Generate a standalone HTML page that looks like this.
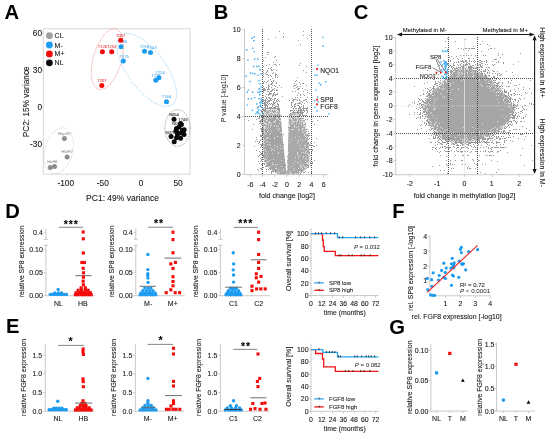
<!DOCTYPE html>
<html><head><meta charset="utf-8"><style>
html,body{margin:0;padding:0;background:#fff;}
svg{display:block;font-family:"Liberation Sans",sans-serif;filter:blur(0.3px);}
text{stroke-width:0.08px;}
</style></head><body>
<svg width="550" height="438" viewBox="0 0 550 438">
<rect width="550" height="438" fill="#fff"/>
<text x="4.6" y="18.7" font-size="20.2" font-weight="bold" fill="#000">A</text>
<text x="213.8" y="18.7" font-size="20.2" font-weight="bold" fill="#000">B</text>
<text x="353.8" y="18.8" font-size="20.2" font-weight="bold" fill="#000">C</text>
<text x="5.3" y="217.9" font-size="20.2" font-weight="bold" fill="#000">D</text>
<text x="6" y="333.2" font-size="20.2" font-weight="bold" fill="#000">E</text>
<text x="392.2" y="218" font-size="20.2" font-weight="bold" fill="#000">F</text>
<text x="389.3" y="334" font-size="20.2" font-weight="bold" fill="#000">G</text>
<rect x="43.3" y="28.7" width="146.7" height="145.5" fill="none" stroke="#dadada" stroke-width="1.1"/>
<line x1="41.3" y1="33.3" x2="43.3" y2="33.3" stroke="#dadada" stroke-width="0.9"/>
<text x="42" y="36.25" font-size="8.3" text-anchor="end" fill="#141414" stroke="#141414">60</text>
<line x1="41.3" y1="70.3" x2="43.3" y2="70.3" stroke="#dadada" stroke-width="0.9"/>
<text x="42" y="73.25" font-size="8.3" text-anchor="end" fill="#141414" stroke="#141414">30</text>
<line x1="41.3" y1="107.3" x2="43.3" y2="107.3" stroke="#dadada" stroke-width="0.9"/>
<text x="42" y="110.25" font-size="8.3" text-anchor="end" fill="#141414" stroke="#141414">0</text>
<line x1="41.3" y1="144.3" x2="43.3" y2="144.3" stroke="#dadada" stroke-width="0.9"/>
<text x="42" y="147.25" font-size="8.3" text-anchor="end" fill="#141414" stroke="#141414">-30</text>
<line x1="67" y1="174.2" x2="67" y2="176.2" stroke="#dadada" stroke-width="0.9"/>
<text x="65.8" y="186.4" font-size="8.3" text-anchor="middle" fill="#141414" stroke="#141414">-100</text>
<line x1="104" y1="174.2" x2="104" y2="176.2" stroke="#dadada" stroke-width="0.9"/>
<text x="102.8" y="186.4" font-size="8.3" text-anchor="middle" fill="#141414" stroke="#141414">-50</text>
<line x1="141" y1="174.2" x2="141" y2="176.2" stroke="#dadada" stroke-width="0.9"/>
<text x="141" y="186.4" font-size="8.3" text-anchor="middle" fill="#141414" stroke="#141414">0</text>
<line x1="178" y1="174.2" x2="178" y2="176.2" stroke="#dadada" stroke-width="0.9"/>
<text x="178" y="186.4" font-size="8.3" text-anchor="middle" fill="#141414" stroke="#141414">50</text>
<text x="122.5" y="200.8" font-size="8.5" text-anchor="middle" fill="#141414" stroke="#141414">PC1: 49% variance</text>
<text x="29.3" y="101.8" font-size="8.3" text-anchor="middle" fill="#141414" stroke="#141414" transform="rotate(-90 29.3 101.8)">PC2: 15% variance</text>
<ellipse cx="58.7" cy="150.8" rx="23.4" ry="13.9" transform="rotate(-74.4 58.7 150.8)" fill="none" stroke="#b8b8b8" stroke-width="0.7" stroke-dasharray="0.9 1.1"/>
<ellipse cx="107.4" cy="59.1" rx="31.3" ry="14.1" transform="rotate(-74 107.4 59.1)" fill="none" stroke="#f46060" stroke-width="0.7" stroke-dasharray="0.9 1.1"/>
<ellipse cx="146.8" cy="69.9" rx="43.1" ry="19" transform="rotate(53.6 146.8 69.9)" fill="none" stroke="#70bdf0" stroke-width="0.7" stroke-dasharray="0.9 1.1"/>
<ellipse cx="177.5" cy="128" rx="12.6" ry="18.3" transform="rotate(0 177.5 128)" fill="none" stroke="#606060" stroke-width="0.7" stroke-dasharray="0.9 1.1"/>
<circle cx="49.4" cy="35.7" r="3.4" fill="#a0a0a4"/>
<text x="54.6" y="38.2" font-size="7" text-anchor="start" fill="#141414" stroke="#141414">CL</text>
<circle cx="49.4" cy="45" r="3.4" fill="#1c9cf0"/>
<text x="54.6" y="47.5" font-size="7" text-anchor="start" fill="#141414" stroke="#141414">M-</text>
<circle cx="49.4" cy="53.9" r="3.4" fill="#f50a0a"/>
<text x="54.6" y="56.4" font-size="7" text-anchor="start" fill="#141414" stroke="#141414">M+</text>
<circle cx="49.4" cy="62.8" r="3.4" fill="#0a0a0a"/>
<text x="54.6" y="65.3" font-size="7" text-anchor="start" fill="#141414" stroke="#141414">NL</text>
<text x="64.4" y="134.9" font-size="4.1" text-anchor="middle" fill="#9a9a9a" stroke="#9a9a9a">HepG2</text>
<text x="67.1" y="153.4" font-size="4.1" text-anchor="middle" fill="#9a9a9a" stroke="#9a9a9a">HUH7</text>
<text x="52.4" y="163.4" font-size="4.1" text-anchor="middle" fill="#9a9a9a" stroke="#9a9a9a">HuH6</text>
<circle cx="64.4" cy="138.5" r="2.5" fill="#8e8e92"/>
<circle cx="67.1" cy="157" r="2.5" fill="#8e8e92"/>
<circle cx="50.3" cy="167.5" r="2.5" fill="#8e8e92"/>
<circle cx="54.5" cy="166.4" r="2.5" fill="#8e8e92"/>
<text x="120.7" y="36.7" font-size="4.1" text-anchor="middle" fill="#f04040" stroke="#f04040">T057</text>
<text x="102.4" y="48.1" font-size="4.1" text-anchor="middle" fill="#f04040" stroke="#f04040">T126</text>
<text x="111.7" y="48.1" font-size="4.1" text-anchor="middle" fill="#f04040" stroke="#f04040">T253</text>
<text x="101.8" y="82" font-size="4.1" text-anchor="middle" fill="#f04040" stroke="#f04040">T207</text>
<text x="122.5" y="43.2" font-size="4.1" text-anchor="middle" fill="#5ab2ee" stroke="#5ab2ee">T188</text>
<text x="124.3" y="57.5" font-size="4.1" text-anchor="middle" fill="#5ab2ee" stroke="#5ab2ee">T175</text>
<text x="144.5" y="47.6" font-size="4.1" text-anchor="middle" fill="#5ab2ee" stroke="#5ab2ee">T258</text>
<text x="152" y="48.8" font-size="4.1" text-anchor="middle" fill="#5ab2ee" stroke="#5ab2ee">T343</text>
<text x="155.8" y="76.7" font-size="4.1" text-anchor="middle" fill="#5ab2ee" stroke="#5ab2ee">T216</text>
<text x="160" y="74.2" font-size="4.1" text-anchor="middle" fill="#5ab2ee" stroke="#5ab2ee">T224</text>
<text x="166.5" y="98.1" font-size="4.1" text-anchor="middle" fill="#5ab2ee" stroke="#5ab2ee">T744</text>
<circle cx="121" cy="46.8" r="2.5" fill="#1c9cf0"/>
<circle cx="123.3" cy="61.1" r="2.5" fill="#1c9cf0"/>
<circle cx="144.5" cy="51.2" r="2.5" fill="#1c9cf0"/>
<circle cx="150.5" cy="52.4" r="2.5" fill="#1c9cf0"/>
<circle cx="155.8" cy="80.3" r="2.5" fill="#1c9cf0"/>
<circle cx="158.9" cy="77.8" r="2.5" fill="#1c9cf0"/>
<circle cx="166.5" cy="101.7" r="2.5" fill="#1c9cf0"/>
<circle cx="120.7" cy="40.3" r="2.5" fill="#f50a0a"/>
<circle cx="102.4" cy="51.7" r="2.5" fill="#f50a0a"/>
<circle cx="111.7" cy="51.7" r="2.5" fill="#f50a0a"/>
<circle cx="101.8" cy="85.6" r="2.5" fill="#f50a0a"/>
<text x="174" y="116" font-size="4.1" text-anchor="middle" fill="#303030" stroke="#303030">N054</text>
<text x="183" y="121" font-size="4.1" text-anchor="middle" fill="#303030" stroke="#303030">T746</text>
<text x="176" y="125" font-size="4.1" text-anchor="middle" fill="#303030" stroke="#303030">N07</text>
<text x="170.5" y="133.5" font-size="4.1" text-anchor="middle" fill="#303030" stroke="#303030">N078</text>
<circle cx="174" cy="119.2" r="2.5" fill="#0a0a0a"/>
<circle cx="180.6" cy="123.4" r="2.5" fill="#0a0a0a"/>
<circle cx="181.4" cy="124.5" r="2.5" fill="#0a0a0a"/>
<circle cx="176.5" cy="128.5" r="2.5" fill="#0a0a0a"/>
<circle cx="182.5" cy="130.3" r="2.5" fill="#0a0a0a"/>
<circle cx="183.1" cy="131.4" r="2.5" fill="#0a0a0a"/>
<circle cx="182" cy="133.1" r="2.5" fill="#0a0a0a"/>
<circle cx="176" cy="130.8" r="2.5" fill="#0a0a0a"/>
<circle cx="178" cy="133.1" r="2.5" fill="#0a0a0a"/>
<circle cx="179" cy="127" r="2.5" fill="#0a0a0a"/>
<circle cx="184" cy="134.5" r="2.5" fill="#0a0a0a"/>
<circle cx="177.5" cy="134.5" r="2.5" fill="#0a0a0a"/>
<circle cx="171.1" cy="136.5" r="2.5" fill="#0a0a0a"/>
<circle cx="176.5" cy="137.7" r="2.5" fill="#0a0a0a"/>
<circle cx="180.6" cy="138.2" r="2.5" fill="#0a0a0a"/>
<circle cx="174.2" cy="141.7" r="2.5" fill="#0a0a0a"/>
<circle cx="184.2" cy="129.7" r="2.5" fill="#0a0a0a"/>
<path d="M277.5 109.5L279.4 112L280.6 116L282 130L283.4 145L284.8 158L285.7 168L286.4 173.6L287 174.2L279 174L272 170.5L267 166L264.5 161L263.2 152L262.6 135L262.5 116L262.7 112L266 109.5L272 109Z" fill="#a4a4a4"/>
<path d="M293.5 113L290.3 114.2L288.9 116L288.5 130L288.1 145L287.7 158L287.3 168L286.9 173.6L287.2 174.2L296 174L302.5 172L306.5 168.5L309.5 163L309.8 156L308.8 146L307 136L304.8 126L302.5 119L300 115L297 113.3Z" fill="#a9a9a9"/>
<path d="M266 109h1v1h-1zM267 109h1v1h-1zM268 109h1v1h-1zM269 109h1v1h-1zM270 109h1v1h-1zM271 109h1v1h-1zM272 109h1v1h-1zM273 109h1v1h-1zM274 109h1v1h-1zM276 109h1v1h-1zM267 110h1v1h-1zM268 110h1v1h-1zM271 110h1v1h-1zM273 110h1v1h-1zM275 110h1v1h-1zM276 110h1v1h-1zM277 110h1v1h-1zM263 111h1v1h-1zM266 111h1v1h-1zM269 111h1v1h-1zM271 111h1v1h-1zM276 111h1v1h-1zM277 111h1v1h-1zM278 111h1v1h-1zM263 112h1v1h-1zM264 112h1v1h-1zM265 112h1v1h-1zM269 112h1v1h-1zM270 112h1v1h-1zM271 112h1v1h-1zM272 112h1v1h-1zM275 112h1v1h-1zM276 112h1v1h-1zM264 113h1v1h-1zM265 113h1v1h-1zM266 113h1v1h-1zM268 113h1v1h-1zM269 113h1v1h-1zM272 113h1v1h-1zM273 113h1v1h-1zM274 113h1v1h-1zM275 113h1v1h-1zM276 113h1v1h-1zM277 113h1v1h-1zM292 113h1v1h-1zM295 113h1v1h-1zM296 113h1v1h-1zM264 114h1v1h-1zM265 114h1v1h-1zM267 114h1v1h-1zM270 114h1v1h-1zM271 114h1v1h-1zM273 114h1v1h-1zM276 114h1v1h-1zM278 114h1v1h-1zM293 114h1v1h-1zM296 114h1v1h-1zM297 114h1v1h-1zM298 114h1v1h-1zM265 115h1v1h-1zM267 115h1v1h-1zM268 115h1v1h-1zM272 115h1v1h-1zM292 115h1v1h-1zM293 115h1v1h-1zM294 115h1v1h-1zM295 115h1v1h-1zM296 115h1v1h-1zM297 115h1v1h-1zM263 116h1v1h-1zM266 116h1v1h-1zM272 116h1v1h-1zM273 116h1v1h-1zM290 116h1v1h-1zM291 116h1v1h-1zM292 116h1v1h-1zM293 116h1v1h-1zM294 116h1v1h-1zM295 116h1v1h-1zM297 116h1v1h-1zM299 116h1v1h-1zM300 116h1v1h-1zM264 117h1v1h-1zM265 117h1v1h-1zM269 117h1v1h-1zM270 117h1v1h-1zM272 117h1v1h-1zM276 117h1v1h-1zM277 117h1v1h-1zM280 117h1v1h-1zM290 117h1v1h-1zM295 117h1v1h-1zM296 117h1v1h-1zM297 117h1v1h-1zM299 117h1v1h-1zM300 117h1v1h-1zM301 117h1v1h-1zM265 118h1v1h-1zM267 118h1v1h-1zM268 118h1v1h-1zM271 118h1v1h-1zM276 118h1v1h-1zM277 118h1v1h-1zM289 118h1v1h-1zM290 118h1v1h-1zM291 118h1v1h-1zM294 118h1v1h-1zM296 118h1v1h-1zM298 118h1v1h-1zM263 119h1v1h-1zM264 119h1v1h-1zM267 119h1v1h-1zM278 119h1v1h-1zM291 119h1v1h-1zM292 119h1v1h-1zM297 119h1v1h-1zM301 119h1v1h-1zM302 119h1v1h-1zM266 120h1v1h-1zM267 120h1v1h-1zM275 120h1v1h-1zM279 120h1v1h-1zM280 120h1v1h-1zM292 120h1v1h-1zM297 120h1v1h-1zM299 120h1v1h-1zM302 120h1v1h-1zM263 121h1v1h-1zM266 121h1v1h-1zM269 121h1v1h-1zM273 121h1v1h-1zM274 121h1v1h-1zM275 121h1v1h-1zM291 121h1v1h-1zM293 121h1v1h-1zM294 121h1v1h-1zM296 121h1v1h-1zM297 121h1v1h-1zM300 121h1v1h-1zM301 121h1v1h-1zM263 122h1v1h-1zM264 122h1v1h-1zM268 122h1v1h-1zM269 122h1v1h-1zM270 122h1v1h-1zM274 122h1v1h-1zM293 122h1v1h-1zM301 122h1v1h-1zM303 122h1v1h-1zM264 123h1v1h-1zM265 123h1v1h-1zM266 123h1v1h-1zM269 123h1v1h-1zM271 123h1v1h-1zM279 123h1v1h-1zM291 123h1v1h-1zM292 123h1v1h-1zM296 123h1v1h-1zM299 123h1v1h-1zM303 123h1v1h-1zM263 124h1v1h-1zM265 124h1v1h-1zM266 124h1v1h-1zM268 124h1v1h-1zM289 124h1v1h-1zM301 124h1v1h-1zM303 124h1v1h-1zM268 125h1v1h-1zM270 125h1v1h-1zM271 125h1v1h-1zM274 125h1v1h-1zM276 125h1v1h-1zM289 125h1v1h-1zM294 125h1v1h-1zM304 125h1v1h-1zM264 126h1v1h-1zM265 126h1v1h-1zM266 126h1v1h-1zM273 126h1v1h-1zM276 126h1v1h-1zM278 126h1v1h-1zM289 126h1v1h-1zM294 126h1v1h-1zM298 126h1v1h-1zM303 126h1v1h-1zM304 126h1v1h-1zM263 127h1v1h-1zM264 127h1v1h-1zM265 127h1v1h-1zM268 127h1v1h-1zM270 127h1v1h-1zM294 127h1v1h-1zM296 127h1v1h-1zM264 128h1v1h-1zM265 128h1v1h-1zM267 128h1v1h-1zM276 128h1v1h-1zM279 128h1v1h-1zM302 128h1v1h-1zM303 128h1v1h-1zM264 129h1v1h-1zM270 129h1v1h-1zM278 129h1v1h-1zM291 129h1v1h-1zM292 129h1v1h-1zM293 129h1v1h-1zM298 129h1v1h-1zM299 129h1v1h-1zM302 129h1v1h-1zM268 130h1v1h-1zM278 130h1v1h-1zM302 130h1v1h-1zM264 131h1v1h-1zM267 131h1v1h-1zM271 131h1v1h-1zM289 131h1v1h-1zM298 131h1v1h-1zM304 131h1v1h-1zM264 132h1v1h-1zM280 132h1v1h-1zM281 132h1v1h-1zM302 132h1v1h-1zM303 132h1v1h-1zM264 133h1v1h-1zM266 133h1v1h-1zM270 133h1v1h-1zM305 133h1v1h-1zM265 134h1v1h-1zM269 134h1v1h-1zM304 134h1v1h-1zM263 135h1v1h-1zM304 135h1v1h-1zM277 136h1v1h-1zM299 136h1v1h-1zM305 136h1v1h-1zM267 137h1v1h-1zM274 137h1v1h-1zM281 137h1v1h-1zM295 137h1v1h-1zM306 137h1v1h-1zM263 138h1v1h-1zM266 138h1v1h-1zM267 138h1v1h-1zM269 138h1v1h-1zM274 138h1v1h-1zM263 139h1v1h-1zM265 139h1v1h-1zM291 139h1v1h-1zM300 139h1v1h-1zM305 139h1v1h-1zM263 140h1v1h-1zM264 140h1v1h-1zM282 140h1v1h-1zM297 140h1v1h-1zM302 140h1v1h-1zM263 141h1v1h-1zM266 141h1v1h-1zM267 141h1v1h-1zM298 141h1v1h-1zM307 141h1v1h-1zM263 142h1v1h-1zM269 142h1v1h-1zM290 142h1v1h-1zM263 143h1v1h-1zM264 143h1v1h-1zM297 143h1v1h-1zM267 144h1v1h-1zM269 144h1v1h-1zM263 145h1v1h-1zM270 145h1v1h-1zM274 145h1v1h-1zM280 145h1v1h-1zM299 145h1v1h-1zM304 145h1v1h-1zM305 145h1v1h-1zM264 146h1v1h-1zM277 146h1v1h-1zM263 147h1v1h-1zM274 147h1v1h-1zM283 147h1v1h-1zM305 147h1v1h-1zM271 148h1v1h-1zM277 148h1v1h-1zM280 148h1v1h-1zM281 148h1v1h-1zM300 148h1v1h-1zM307 148h1v1h-1zM263 149h1v1h-1zM265 149h1v1h-1zM272 149h1v1h-1zM303 149h1v1h-1zM263 150h1v1h-1zM264 150h1v1h-1zM271 150h1v1h-1zM274 150h1v1h-1zM306 150h1v1h-1zM266 151h1v1h-1zM305 151h1v1h-1zM263 152h1v1h-1zM278 152h1v1h-1zM288 152h1v1h-1zM297 152h1v1h-1zM301 152h1v1h-1zM303 152h1v1h-1zM305 152h1v1h-1zM263 153h1v1h-1zM267 153h1v1h-1zM272 153h1v1h-1zM278 153h1v1h-1zM297 153h1v1h-1zM305 153h1v1h-1zM307 153h1v1h-1zM265 154h1v1h-1zM297 154h1v1h-1zM308 154h1v1h-1zM299 155h1v1h-1zM308 155h1v1h-1zM309 155h1v1h-1zM266 156h1v1h-1zM298 156h1v1h-1zM303 156h1v1h-1zM306 156h1v1h-1zM295 157h1v1h-1zM303 157h1v1h-1zM309 157h1v1h-1zM265 158h1v1h-1zM298 158h1v1h-1zM305 158h1v1h-1zM308 158h1v1h-1zM264 159h1v1h-1zM266 159h1v1h-1zM273 159h1v1h-1zM306 159h1v1h-1zM309 159h1v1h-1zM269 160h1v1h-1zM281 160h1v1h-1zM309 160h1v1h-1zM267 161h1v1h-1zM268 161h1v1h-1zM295 161h1v1h-1zM300 161h1v1h-1zM305 161h1v1h-1zM308 161h1v1h-1zM265 162h1v1h-1zM266 162h1v1h-1zM272 162h1v1h-1zM297 162h1v1h-1zM298 162h1v1h-1zM307 162h1v1h-1zM309 162h1v1h-1zM293 163h1v1h-1zM306 163h1v1h-1zM307 163h1v1h-1zM308 163h1v1h-1zM266 164h1v1h-1zM272 164h1v1h-1zM273 164h1v1h-1zM275 164h1v1h-1zM277 164h1v1h-1zM299 164h1v1h-1zM302 164h1v1h-1zM300 165h1v1h-1zM303 165h1v1h-1zM270 166h1v1h-1zM276 166h1v1h-1zM281 166h1v1h-1zM291 166h1v1h-1zM300 166h1v1h-1zM301 166h1v1h-1zM304 166h1v1h-1zM307 166h1v1h-1zM269 167h1v1h-1zM301 167h1v1h-1zM304 167h1v1h-1zM305 167h1v1h-1zM306 167h1v1h-1zM275 168h1v1h-1zM276 168h1v1h-1zM287 168h1v1h-1zM294 168h1v1h-1zM298 168h1v1h-1zM302 168h1v1h-1zM305 168h1v1h-1zM271 169h1v1h-1zM278 169h1v1h-1zM283 169h1v1h-1zM283 170h1v1h-1zM293 170h1v1h-1zM274 171h1v1h-1zM278 171h1v1h-1zM281 171h1v1h-1zM290 171h1v1h-1zM299 171h1v1h-1zM277 172h1v1h-1zM279 172h1v1h-1zM289 172h1v1h-1zM299 172h1v1h-1zM300 172h1v1h-1zM290 173h1v1h-1zM291 173h1v1h-1zM295 173h1v1h-1z" fill="#ffffff" opacity="0.6"/>
<path d="M279 31h1v1h-1zM303 31h1v1h-1zM283 33h1v1h-1zM303 35h1v1h-1zM309 35h1v1h-1zM283 36h1v1h-1zM275 37h1v1h-1zM283 37h1v1h-1zM307 38h1v1h-1zM268 39h1v1h-1zM298 40h1v1h-1zM300 44h1v1h-1zM263 45h1v1h-1zM267 52h1v1h-1zM268 52h1v1h-1zM267 54h1v1h-1zM275 56h1v1h-1zM265 57h1v1h-1zM274 57h1v1h-1zM263 60h1v1h-1zM276 60h1v1h-1zM273 62h1v1h-1zM300 63h1v1h-1zM269 64h1v1h-1zM274 64h1v1h-1zM275 64h1v1h-1zM279 64h1v1h-1zM266 65h1v1h-1zM276 65h1v1h-1zM299 65h1v1h-1zM263 66h1v1h-1zM306 66h1v1h-1zM271 67h1v1h-1zM268 68h1v1h-1zM270 68h1v1h-1zM271 69h1v1h-1zM273 69h1v1h-1zM263 70h1v1h-1zM267 70h1v1h-1zM271 70h1v1h-1zM272 70h1v1h-1zM276 70h1v1h-1zM303 70h1v1h-1zM267 71h1v1h-1zM263 72h1v1h-1zM266 72h1v1h-1zM273 72h1v1h-1zM306 72h1v1h-1zM265 73h1v1h-1zM272 73h1v1h-1zM275 73h1v1h-1zM263 74h1v1h-1zM266 74h1v1h-1zM267 74h1v1h-1zM275 74h1v1h-1zM276 74h1v1h-1zM268 75h1v1h-1zM270 75h1v1h-1zM275 75h1v1h-1zM277 75h1v1h-1zM263 76h1v1h-1zM271 76h1v1h-1zM275 76h1v1h-1zM268 77h1v1h-1zM275 77h1v1h-1zM277 77h1v1h-1zM297 77h1v1h-1zM272 78h1v1h-1zM270 79h1v1h-1zM268 80h1v1h-1zM273 80h1v1h-1zM296 80h1v1h-1zM264 81h1v1h-1zM267 81h1v1h-1zM271 81h1v1h-1zM273 81h1v1h-1zM295 81h1v1h-1zM263 82h1v1h-1zM266 82h1v1h-1zM272 82h1v1h-1zM276 82h1v1h-1zM299 82h1v1h-1zM263 83h1v1h-1zM271 83h1v1h-1zM272 83h1v1h-1zM276 83h1v1h-1zM294 83h1v1h-1zM302 83h1v1h-1zM303 83h1v1h-1zM268 84h1v1h-1zM270 84h1v1h-1zM271 84h1v1h-1zM296 84h1v1h-1zM300 84h1v1h-1zM268 85h1v1h-1zM272 85h1v1h-1zM274 85h1v1h-1zM279 85h1v1h-1zM294 85h1v1h-1zM295 85h1v1h-1zM306 85h1v1h-1zM263 86h1v1h-1zM268 86h1v1h-1zM269 86h1v1h-1zM275 86h1v1h-1zM293 86h1v1h-1zM297 86h1v1h-1zM300 86h1v1h-1zM266 87h1v1h-1zM268 87h1v1h-1zM271 87h1v1h-1zM277 87h1v1h-1zM281 87h1v1h-1zM296 87h1v1h-1zM263 88h1v1h-1zM264 88h1v1h-1zM268 88h1v1h-1zM274 88h1v1h-1zM294 88h1v1h-1zM298 88h1v1h-1zM299 88h1v1h-1zM302 88h1v1h-1zM263 89h1v1h-1zM264 89h1v1h-1zM265 89h1v1h-1zM267 89h1v1h-1zM268 89h1v1h-1zM269 89h1v1h-1zM272 89h1v1h-1zM273 89h1v1h-1zM276 89h1v1h-1zM297 89h1v1h-1zM298 89h1v1h-1zM305 89h1v1h-1zM263 90h1v1h-1zM264 90h1v1h-1zM265 90h1v1h-1zM271 90h1v1h-1zM272 90h1v1h-1zM274 90h1v1h-1zM276 90h1v1h-1zM277 90h1v1h-1zM307 90h1v1h-1zM263 91h1v1h-1zM267 91h1v1h-1zM268 91h1v1h-1zM270 91h1v1h-1zM271 91h1v1h-1zM292 91h1v1h-1zM295 91h1v1h-1zM303 91h1v1h-1zM263 92h1v1h-1zM269 92h1v1h-1zM274 92h1v1h-1zM307 92h1v1h-1zM269 93h1v1h-1zM270 93h1v1h-1zM271 93h1v1h-1zM273 93h1v1h-1zM277 93h1v1h-1zM298 93h1v1h-1zM309 93h1v1h-1zM266 94h1v1h-1zM268 94h1v1h-1zM269 94h1v1h-1zM270 94h1v1h-1zM273 94h1v1h-1zM274 94h1v1h-1zM275 94h1v1h-1zM276 94h1v1h-1zM277 94h1v1h-1zM300 94h1v1h-1zM303 94h1v1h-1zM263 95h1v1h-1zM268 95h1v1h-1zM272 95h1v1h-1zM273 95h1v1h-1zM275 95h1v1h-1zM297 95h1v1h-1zM300 95h1v1h-1zM304 95h1v1h-1zM265 96h1v1h-1zM272 96h1v1h-1zM282 96h1v1h-1zM263 97h1v1h-1zM266 97h1v1h-1zM268 97h1v1h-1zM269 97h1v1h-1zM295 97h1v1h-1zM297 97h1v1h-1zM300 97h1v1h-1zM307 97h1v1h-1zM266 98h1v1h-1zM269 98h1v1h-1zM270 98h1v1h-1zM271 98h1v1h-1zM274 98h1v1h-1zM275 98h1v1h-1zM292 98h1v1h-1zM263 99h1v1h-1zM265 99h1v1h-1zM267 99h1v1h-1zM270 99h1v1h-1zM272 99h1v1h-1zM274 99h1v1h-1zM277 99h1v1h-1zM293 99h1v1h-1zM294 99h1v1h-1zM295 99h1v1h-1zM296 99h1v1h-1zM299 99h1v1h-1zM305 99h1v1h-1zM306 99h1v1h-1zM263 100h1v1h-1zM264 100h1v1h-1zM265 100h1v1h-1zM268 100h1v1h-1zM269 100h1v1h-1zM270 100h1v1h-1zM271 100h1v1h-1zM274 100h1v1h-1zM276 100h1v1h-1zM278 100h1v1h-1zM289 100h1v1h-1zM292 100h1v1h-1zM293 100h1v1h-1zM297 100h1v1h-1zM299 100h1v1h-1zM303 100h1v1h-1zM304 100h1v1h-1zM263 101h1v1h-1zM265 101h1v1h-1zM267 101h1v1h-1zM268 101h1v1h-1zM269 101h1v1h-1zM273 101h1v1h-1zM276 101h1v1h-1zM277 101h1v1h-1zM279 101h1v1h-1zM293 101h1v1h-1zM300 101h1v1h-1zM301 101h1v1h-1zM306 101h1v1h-1zM264 102h1v1h-1zM265 102h1v1h-1zM266 102h1v1h-1zM267 102h1v1h-1zM273 102h1v1h-1zM274 102h1v1h-1zM275 102h1v1h-1zM291 102h1v1h-1zM292 102h1v1h-1zM299 102h1v1h-1zM302 102h1v1h-1zM307 102h1v1h-1zM263 103h1v1h-1zM264 103h1v1h-1zM265 103h1v1h-1zM267 103h1v1h-1zM269 103h1v1h-1zM271 103h1v1h-1zM273 103h1v1h-1zM274 103h1v1h-1zM277 103h1v1h-1zM291 103h1v1h-1zM295 103h1v1h-1zM297 103h1v1h-1zM298 103h1v1h-1zM299 103h1v1h-1zM300 103h1v1h-1zM304 103h1v1h-1zM264 104h1v1h-1zM265 104h1v1h-1zM266 104h1v1h-1zM268 104h1v1h-1zM270 104h1v1h-1zM272 104h1v1h-1zM273 104h1v1h-1zM277 104h1v1h-1zM278 104h1v1h-1zM291 104h1v1h-1zM294 104h1v1h-1zM295 104h1v1h-1zM301 104h1v1h-1zM264 105h1v1h-1zM265 105h1v1h-1zM266 105h1v1h-1zM267 105h1v1h-1zM272 105h1v1h-1zM274 105h1v1h-1zM278 105h1v1h-1zM291 105h1v1h-1zM294 105h1v1h-1zM297 105h1v1h-1zM298 105h1v1h-1zM303 105h1v1h-1zM258 106h1v1h-1zM265 106h1v1h-1zM267 106h1v1h-1zM272 106h1v1h-1zM275 106h1v1h-1zM276 106h1v1h-1zM277 106h1v1h-1zM278 106h1v1h-1zM292 106h1v1h-1zM294 106h1v1h-1zM295 106h1v1h-1zM299 106h1v1h-1zM301 106h1v1h-1zM303 106h1v1h-1zM258 107h1v1h-1zM264 107h1v1h-1zM265 107h1v1h-1zM267 107h1v1h-1zM269 107h1v1h-1zM270 107h1v1h-1zM271 107h1v1h-1zM273 107h1v1h-1zM274 107h1v1h-1zM275 107h1v1h-1zM278 107h1v1h-1zM291 107h1v1h-1zM294 107h1v1h-1zM299 107h1v1h-1zM300 107h1v1h-1zM303 107h1v1h-1zM307 107h1v1h-1zM263 108h1v1h-1zM265 108h1v1h-1zM266 108h1v1h-1zM267 108h1v1h-1zM268 108h1v1h-1zM269 108h1v1h-1zM270 108h1v1h-1zM271 108h1v1h-1zM272 108h1v1h-1zM273 108h1v1h-1zM274 108h1v1h-1zM275 108h1v1h-1zM276 108h1v1h-1zM277 108h1v1h-1zM278 108h1v1h-1zM279 108h1v1h-1zM293 108h1v1h-1zM295 108h1v1h-1zM296 108h1v1h-1zM298 108h1v1h-1zM299 108h1v1h-1zM300 108h1v1h-1zM302 108h1v1h-1zM303 108h1v1h-1zM304 108h1v1h-1zM305 108h1v1h-1zM306 108h1v1h-1zM307 108h1v1h-1zM263 109h1v1h-1zM264 109h1v1h-1zM265 109h1v1h-1zM277 109h1v1h-1zM278 109h1v1h-1zM279 109h1v1h-1zM293 109h1v1h-1zM298 109h1v1h-1zM300 109h1v1h-1zM301 109h1v1h-1zM303 109h1v1h-1zM306 109h1v1h-1zM263 110h1v1h-1zM264 110h1v1h-1zM278 110h1v1h-1zM279 110h1v1h-1zM290 110h1v1h-1zM291 110h1v1h-1zM292 110h1v1h-1zM294 110h1v1h-1zM296 110h1v1h-1zM298 110h1v1h-1zM299 110h1v1h-1zM300 110h1v1h-1zM301 110h1v1h-1zM302 110h1v1h-1zM303 110h1v1h-1zM304 110h1v1h-1zM306 110h1v1h-1zM307 110h1v1h-1zM261 111h1v1h-1zM279 111h1v1h-1zM290 111h1v1h-1zM293 111h1v1h-1zM297 111h1v1h-1zM298 111h1v1h-1zM300 111h1v1h-1zM301 111h1v1h-1zM304 111h1v1h-1zM307 111h1v1h-1zM262 112h1v1h-1zM292 112h1v1h-1zM293 112h1v1h-1zM294 112h1v1h-1zM295 112h1v1h-1zM296 112h1v1h-1zM297 112h1v1h-1zM298 112h1v1h-1zM299 112h1v1h-1zM300 112h1v1h-1zM301 112h1v1h-1zM302 112h1v1h-1zM303 112h1v1h-1zM307 112h1v1h-1zM259 113h1v1h-1zM290 113h1v1h-1zM291 113h1v1h-1zM297 113h1v1h-1zM298 113h1v1h-1zM300 113h1v1h-1zM301 113h1v1h-1zM302 113h1v1h-1zM306 113h1v1h-1zM289 114h1v1h-1zM299 114h1v1h-1zM300 114h1v1h-1zM302 114h1v1h-1zM261 115h1v1h-1zM262 115h1v1h-1zM280 115h1v1h-1zM300 115h1v1h-1zM302 115h1v1h-1zM303 115h1v1h-1zM304 115h1v1h-1zM305 115h1v1h-1zM306 115h1v1h-1zM261 116h1v1h-1zM262 116h1v1h-1zM259 117h1v1h-1zM261 117h1v1h-1zM262 117h1v1h-1zM258 118h1v1h-1zM259 118h1v1h-1zM262 118h1v1h-1zM302 118h1v1h-1zM303 118h1v1h-1zM256 119h1v1h-1zM261 119h1v1h-1zM262 119h1v1h-1zM305 119h1v1h-1zM307 119h1v1h-1zM248 120h1v1h-1zM260 120h1v1h-1zM261 120h1v1h-1zM262 120h1v1h-1zM303 120h1v1h-1zM304 120h1v1h-1zM317 120h1v1h-1zM259 121h1v1h-1zM260 121h1v1h-1zM261 121h1v1h-1zM262 121h1v1h-1zM312 121h1v1h-1zM260 122h1v1h-1zM304 122h1v1h-1zM259 123h1v1h-1zM261 123h1v1h-1zM305 123h1v1h-1zM311 123h1v1h-1zM253 124h1v1h-1zM261 124h1v1h-1zM304 124h1v1h-1zM305 124h1v1h-1zM314 124h1v1h-1zM260 126h1v1h-1zM305 126h1v1h-1zM262 127h1v1h-1zM288 127h1v1h-1zM260 128h1v1h-1zM261 128h1v1h-1zM262 128h1v1h-1zM252 129h1v1h-1zM261 129h1v1h-1zM262 129h1v1h-1zM306 129h1v1h-1zM307 129h1v1h-1zM261 130h1v1h-1zM262 130h1v1h-1zM261 131h1v1h-1zM306 131h1v1h-1zM308 131h1v1h-1zM262 132h1v1h-1zM262 133h1v1h-1zM308 133h1v1h-1zM309 133h1v1h-1zM262 134h1v1h-1zM283 134h1v1h-1zM307 134h1v1h-1zM260 135h1v1h-1zM261 135h1v1h-1zM262 135h1v1h-1zM307 135h1v1h-1zM308 135h1v1h-1zM309 135h1v1h-1zM311 135h1v1h-1zM260 136h1v1h-1zM261 136h1v1h-1zM308 136h1v1h-1zM256 137h1v1h-1zM307 137h1v1h-1zM262 138h1v1h-1zM307 138h1v1h-1zM309 138h1v1h-1zM316 138h1v1h-1zM256 139h1v1h-1zM261 139h1v1h-1zM262 139h1v1h-1zM308 139h1v1h-1zM260 140h1v1h-1zM255 141h1v1h-1zM257 141h1v1h-1zM259 141h1v1h-1zM262 141h1v1h-1zM311 141h1v1h-1zM259 142h1v1h-1zM308 142h1v1h-1zM310 142h1v1h-1zM314 142h1v1h-1zM258 143h1v1h-1zM308 143h1v1h-1zM260 144h1v1h-1zM261 144h1v1h-1zM262 144h1v1h-1zM283 144h1v1h-1zM309 144h1v1h-1zM261 145h1v1h-1zM309 145h1v1h-1zM310 145h1v1h-1zM312 145h1v1h-1zM316 145h1v1h-1zM254 146h1v1h-1zM261 146h1v1h-1zM313 146h1v1h-1zM314 146h1v1h-1zM260 147h1v1h-1zM262 147h1v1h-1zM309 149h1v1h-1zM310 149h1v1h-1zM312 149h1v1h-1zM256 150h1v1h-1zM312 150h1v1h-1zM259 151h1v1h-1zM260 152h1v1h-1zM262 152h1v1h-1zM309 152h1v1h-1zM311 152h1v1h-1zM261 153h1v1h-1zM262 153h1v1h-1zM260 154h1v1h-1zM261 154h1v1h-1zM262 154h1v1h-1zM259 155h1v1h-1zM263 155h1v1h-1zM310 155h1v1h-1zM311 155h1v1h-1zM258 156h1v1h-1zM263 156h1v1h-1zM287 156h1v1h-1zM261 157h1v1h-1zM262 157h1v1h-1zM263 157h1v1h-1zM260 158h1v1h-1zM311 158h1v1h-1zM261 159h1v1h-1zM263 159h1v1h-1zM311 159h1v1h-1zM261 160h1v1h-1zM287 160h1v1h-1zM310 160h1v1h-1zM314 160h1v1h-1zM258 161h1v1h-1zM260 161h1v1h-1zM264 161h1v1h-1zM287 162h1v1h-1zM310 162h1v1h-1zM312 162h1v1h-1zM259 163h1v1h-1zM263 163h1v1h-1zM264 163h1v1h-1zM310 163h1v1h-1zM312 163h1v1h-1zM261 164h1v1h-1zM262 164h1v1h-1zM264 164h1v1h-1zM285 164h1v1h-1zM266 165h1v1h-1zM285 165h1v1h-1zM308 165h1v1h-1zM310 165h1v1h-1zM265 166h1v1h-1zM266 166h1v1h-1zM308 166h1v1h-1zM263 167h1v1h-1zM307 167h1v1h-1zM308 167h1v1h-1zM311 167h1v1h-1zM260 168h1v1h-1zM261 168h1v1h-1zM269 168h1v1h-1zM306 168h1v1h-1zM257 169h1v1h-1zM261 169h1v1h-1zM266 169h1v1h-1zM268 169h1v1h-1zM270 169h1v1h-1zM258 170h1v1h-1zM266 171h1v1h-1zM271 171h1v1h-1zM272 171h1v1h-1zM273 171h1v1h-1zM286 171h1v1h-1zM305 171h1v1h-1zM271 172h1v1h-1zM275 172h1v1h-1zM301 172h1v1h-1zM303 172h1v1h-1zM304 172h1v1h-1zM308 172h1v1h-1zM311 172h1v1h-1zM271 173h1v1h-1zM277 173h1v1h-1zM298 173h1v1h-1zM300 173h1v1h-1zM311 173h1v1h-1zM280 174h1v1h-1zM281 174h1v1h-1zM283 174h1v1h-1zM284 174h1v1h-1zM285 174h1v1h-1zM286 174h1v1h-1zM288 174h1v1h-1zM292 174h1v1h-1zM294 174h1v1h-1zM299 174h1v1h-1zM300 174h1v1h-1zM302 174h1v1h-1zM311 174h1v1h-1z" fill="#9a9a9a"/>
<line x1="262.5" y1="29" x2="262.5" y2="174.6" stroke="#3c3c3c" stroke-width="0.9" stroke-dasharray="1 1"/>
<line x1="311.5" y1="29" x2="311.5" y2="174.6" stroke="#3c3c3c" stroke-width="0.9" stroke-dasharray="1 1"/>
<line x1="245" y1="116.5" x2="328" y2="116.5" stroke="#3c3c3c" stroke-width="0.9" stroke-dasharray="1 1"/>
<path d="M251.4 37.6h1.4v1.4h-1.4zM253.6 36.3h1.4v1.4h-1.4zM253.1 40.1h1.4v1.4h-1.4zM245.9 49.3h1.4v1.4h-1.4zM251.9 47.6h1.4v1.4h-1.4zM253.6 50.9h1.4v1.4h-1.4zM247.2 59.4h1.4v1.4h-1.4zM254 58.3h1.4v1.4h-1.4zM257.2 58.3h1.4v1.4h-1.4zM252.9 65.8h1.4v1.4h-1.4zM256.1 65.8h1.4v1.4h-1.4zM258.3 65.4h1.4v1.4h-1.4zM259.4 69.1h1.4v1.4h-1.4zM249.7 72.3h1.4v1.4h-1.4zM251.9 72.7h1.4v1.4h-1.4zM254 73.3h1.4v1.4h-1.4zM257.2 74.4h1.4v1.4h-1.4zM260.4 73.3h1.4v1.4h-1.4zM245.4 75.5h1.4v1.4h-1.4zM249.3 80.8h1.4v1.4h-1.4zM258.3 79.8h1.4v1.4h-1.4zM259.4 83h1.4v1.4h-1.4zM260.4 86.2h1.4v1.4h-1.4zM258.3 88.3h1.4v1.4h-1.4zM247.6 89.4h1.4v1.4h-1.4zM246.5 91.5h1.4v1.4h-1.4zM251.9 91.5h1.4v1.4h-1.4zM257.2 91.5h1.4v1.4h-1.4zM260.4 90.5h1.4v1.4h-1.4zM259.4 93.7h1.4v1.4h-1.4zM254 96.9h1.4v1.4h-1.4zM247.6 98h1.4v1.4h-1.4zM250.8 98h1.4v1.4h-1.4zM258.3 98h1.4v1.4h-1.4zM260.4 98h1.4v1.4h-1.4zM260 101.2h1.4v1.4h-1.4zM261.5 102.3h1.4v1.4h-1.4zM246.5 104.4h1.4v1.4h-1.4zM256.1 103.3h1.4v1.4h-1.4zM259.4 105.5h1.4v1.4h-1.4zM260.9 106.5h1.4v1.4h-1.4zM251.9 109.7h1.4v1.4h-1.4zM257.2 110.8h1.4v1.4h-1.4zM260.4 109.7h1.4v1.4h-1.4zM261.5 111.9h1.4v1.4h-1.4zM255.1 112.9h1.4v1.4h-1.4zM259.4 114h1.4v1.4h-1.4zM256.96 107.09h1.4v1.4h-1.4zM259.85 104.43h1.4v1.4h-1.4zM258.88 91.28h1.4v1.4h-1.4zM259.35 102.01h1.4v1.4h-1.4zM261.1 99.79h1.4v1.4h-1.4zM257.43 112.3h1.4v1.4h-1.4zM259.05 94.22h1.4v1.4h-1.4zM259.2 88.18h1.4v1.4h-1.4zM256.43 111.59h1.4v1.4h-1.4zM258.08 108.96h1.4v1.4h-1.4zM322.4 36.7h1.4v1.4h-1.4zM322.4 45.6h1.4v1.4h-1.4zM317.4 64.4h1.4v1.4h-1.4zM316.3 74.6h1.4v1.4h-1.4zM314.1 74.6h1.4v1.4h-1.4zM318.5 82.4h1.4v1.4h-1.4zM320 84h1.4v1.4h-1.4zM325 81.1h1.4v1.4h-1.4zM315.2 89.4h1.4v1.4h-1.4zM317 96.5h1.4v1.4h-1.4zM317.4 101.3h1.4v1.4h-1.4zM314.1 100.2h1.4v1.4h-1.4zM316.3 110h1.4v1.4h-1.4zM328.2 113.2h1.4v1.4h-1.4zM314.1 106.7h1.4v1.4h-1.4z" fill="#3aa8f0"/>
<rect x="316.2" y="68.2" width="1.8" height="1.8" fill="#f50a0a"/>
<rect x="316.2" y="98.7" width="1.8" height="1.8" fill="#f50a0a"/>
<rect x="316.1" y="103.5" width="1.8" height="1.8" fill="#f50a0a"/>
<text x="320.3" y="72.6" font-size="6.6" text-anchor="start" fill="#141414" stroke="#141414">NQO1</text>
<text x="320.3" y="102.1" font-size="6.9" text-anchor="start" fill="#141414" stroke="#141414">SP8</text>
<text x="320.3" y="109.2" font-size="6.8" text-anchor="start" fill="#141414" stroke="#141414">FGF8</text>
<line x1="244.5" y1="29.3" x2="244.5" y2="174.6" stroke="#c4c4c4" stroke-width="0.9"/>
<line x1="244.5" y1="174.6" x2="328.5" y2="174.6" stroke="#c4c4c4" stroke-width="0.9"/>
<line x1="242.2" y1="174.2" x2="244.5" y2="174.2" stroke="#c4c4c4" stroke-width="0.9"/>
<text x="240.6" y="176.7" font-size="7" text-anchor="end" fill="#141414" stroke="#141414">0</text>
<line x1="242.2" y1="145.28" x2="244.5" y2="145.28" stroke="#c4c4c4" stroke-width="0.9"/>
<text x="240.6" y="147.78" font-size="7" text-anchor="end" fill="#141414" stroke="#141414">2</text>
<line x1="242.2" y1="116.36" x2="244.5" y2="116.36" stroke="#c4c4c4" stroke-width="0.9"/>
<text x="240.6" y="118.86" font-size="7" text-anchor="end" fill="#141414" stroke="#141414">4</text>
<line x1="242.2" y1="87.44" x2="244.5" y2="87.44" stroke="#c4c4c4" stroke-width="0.9"/>
<text x="240.6" y="89.94" font-size="7" text-anchor="end" fill="#141414" stroke="#141414">6</text>
<line x1="242.2" y1="58.52" x2="244.5" y2="58.52" stroke="#c4c4c4" stroke-width="0.9"/>
<text x="240.6" y="61.02" font-size="7" text-anchor="end" fill="#141414" stroke="#141414">8</text>
<line x1="242.2" y1="29.6" x2="244.5" y2="29.6" stroke="#c4c4c4" stroke-width="0.9"/>
<text x="240.6" y="32.1" font-size="7" text-anchor="end" fill="#141414" stroke="#141414">10</text>
<line x1="250.4" y1="174.6" x2="250.4" y2="176.8" stroke="#c4c4c4" stroke-width="0.9"/>
<text x="250.4" y="187.1" font-size="7" text-anchor="middle" fill="#141414" stroke="#141414">-6</text>
<line x1="262.6" y1="174.6" x2="262.6" y2="176.8" stroke="#c4c4c4" stroke-width="0.9"/>
<text x="262.6" y="187.1" font-size="7" text-anchor="middle" fill="#141414" stroke="#141414">-4</text>
<line x1="274.8" y1="174.6" x2="274.8" y2="176.8" stroke="#c4c4c4" stroke-width="0.9"/>
<text x="274.8" y="187.1" font-size="7" text-anchor="middle" fill="#141414" stroke="#141414">-2</text>
<line x1="287" y1="174.6" x2="287" y2="176.8" stroke="#c4c4c4" stroke-width="0.9"/>
<text x="287" y="187.1" font-size="7" text-anchor="middle" fill="#141414" stroke="#141414">0</text>
<line x1="299.2" y1="174.6" x2="299.2" y2="176.8" stroke="#c4c4c4" stroke-width="0.9"/>
<text x="299.2" y="187.1" font-size="7" text-anchor="middle" fill="#141414" stroke="#141414">2</text>
<line x1="311.4" y1="174.6" x2="311.4" y2="176.8" stroke="#c4c4c4" stroke-width="0.9"/>
<text x="311.4" y="187.1" font-size="7" text-anchor="middle" fill="#141414" stroke="#141414">4</text>
<line x1="323.6" y1="174.6" x2="323.6" y2="176.8" stroke="#c4c4c4" stroke-width="0.9"/>
<text x="323.6" y="187.1" font-size="7" text-anchor="middle" fill="#141414" stroke="#141414">6</text>
<text x="226.4" y="98.5" font-size="6.8" text-anchor="middle" fill="#141414" transform="rotate(-90 226.4 98.5)"><tspan font-style="italic">P</tspan> value [-log10]</text>
<text x="287" y="198.3" font-size="7.1" text-anchor="middle" fill="#141414" stroke="#141414">fold change [log2]</text>
<path d="M455 69.5L464 67.8L473 69.5L481 74L489 78.5L500 89L508.5 99.5L513 106L513 112L510 120L501 129.5L492 135L480 139.8L468 142.5L458 142.5L442 139.5L436 133L430.8 125L425.7 115L423 106L426.5 99.5L434 90L448 78.5Z" fill="#a6a6a6"/>
<path d="M461 68h1v1h-1zM464 68h1v1h-1zM466 68h1v1h-1zM467 68h1v1h-1zM456 69h1v1h-1zM459 69h1v1h-1zM461 69h1v1h-1zM466 69h1v1h-1zM468 69h1v1h-1zM460 70h1v1h-1zM468 70h1v1h-1zM453 71h1v1h-1zM454 71h1v1h-1zM458 71h1v1h-1zM472 71h1v1h-1zM458 72h1v1h-1zM459 72h1v1h-1zM461 72h1v1h-1zM467 72h1v1h-1zM471 72h1v1h-1zM473 72h1v1h-1zM476 72h1v1h-1zM452 73h1v1h-1zM457 73h1v1h-1zM461 73h1v1h-1zM462 73h1v1h-1zM467 73h1v1h-1zM472 73h1v1h-1zM458 74h1v1h-1zM460 74h1v1h-1zM464 74h1v1h-1zM479 74h1v1h-1zM452 75h1v1h-1zM459 75h1v1h-1zM473 75h1v1h-1zM456 76h1v1h-1zM458 76h1v1h-1zM468 76h1v1h-1zM472 76h1v1h-1zM473 76h1v1h-1zM483 76h1v1h-1zM480 78h1v1h-1zM482 78h1v1h-1zM488 78h1v1h-1zM463 79h1v1h-1zM479 79h1v1h-1zM484 79h1v1h-1zM486 79h1v1h-1zM446 80h1v1h-1zM461 80h1v1h-1zM479 80h1v1h-1zM485 80h1v1h-1zM490 80h1v1h-1zM446 81h1v1h-1zM476 81h1v1h-1zM488 81h1v1h-1zM443 82h1v1h-1zM446 82h1v1h-1zM448 82h1v1h-1zM453 82h1v1h-1zM486 82h1v1h-1zM492 82h1v1h-1zM443 83h1v1h-1zM450 83h1v1h-1zM488 83h1v1h-1zM489 83h1v1h-1zM492 83h1v1h-1zM441 84h1v1h-1zM443 84h1v1h-1zM450 84h1v1h-1zM480 84h1v1h-1zM491 84h1v1h-1zM493 84h1v1h-1zM439 85h1v1h-1zM440 85h1v1h-1zM450 85h1v1h-1zM481 85h1v1h-1zM493 85h1v1h-1zM443 86h1v1h-1zM482 86h1v1h-1zM487 86h1v1h-1zM489 86h1v1h-1zM491 86h1v1h-1zM495 86h1v1h-1zM438 87h1v1h-1zM439 87h1v1h-1zM490 87h1v1h-1zM495 87h1v1h-1zM497 87h1v1h-1zM439 88h1v1h-1zM441 88h1v1h-1zM444 88h1v1h-1zM458 88h1v1h-1zM489 88h1v1h-1zM496 88h1v1h-1zM436 89h1v1h-1zM442 89h1v1h-1zM443 89h1v1h-1zM452 89h1v1h-1zM458 89h1v1h-1zM494 89h1v1h-1zM499 89h1v1h-1zM491 90h1v1h-1zM493 90h1v1h-1zM434 91h1v1h-1zM437 91h1v1h-1zM447 91h1v1h-1zM497 91h1v1h-1zM499 91h1v1h-1zM501 91h1v1h-1zM432 92h1v1h-1zM450 92h1v1h-1zM494 92h1v1h-1zM496 92h1v1h-1zM498 92h1v1h-1zM500 92h1v1h-1zM431 93h1v1h-1zM440 93h1v1h-1zM441 94h1v1h-1zM503 94h1v1h-1zM432 95h1v1h-1zM433 95h1v1h-1zM496 95h1v1h-1zM498 95h1v1h-1zM444 96h1v1h-1zM502 96h1v1h-1zM442 97h1v1h-1zM504 97h1v1h-1zM506 97h1v1h-1zM428 98h1v1h-1zM430 98h1v1h-1zM437 98h1v1h-1zM444 98h1v1h-1zM504 98h1v1h-1zM507 98h1v1h-1zM434 99h1v1h-1zM451 99h1v1h-1zM497 99h1v1h-1zM503 99h1v1h-1zM426 100h1v1h-1zM430 100h1v1h-1zM435 100h1v1h-1zM503 100h1v1h-1zM425 101h1v1h-1zM434 102h1v1h-1zM498 102h1v1h-1zM504 102h1v1h-1zM428 103h1v1h-1zM506 103h1v1h-1zM508 103h1v1h-1zM509 103h1v1h-1zM510 103h1v1h-1zM424 104h1v1h-1zM425 104h1v1h-1zM426 104h1v1h-1zM429 104h1v1h-1zM424 105h1v1h-1zM423 106h1v1h-1zM434 106h1v1h-1zM509 106h1v1h-1zM512 106h1v1h-1zM424 107h1v1h-1zM508 107h1v1h-1zM510 107h1v1h-1zM427 108h1v1h-1zM434 108h1v1h-1zM435 108h1v1h-1zM426 109h1v1h-1zM427 109h1v1h-1zM433 109h1v1h-1zM434 109h1v1h-1zM502 109h1v1h-1zM511 109h1v1h-1zM426 110h1v1h-1zM427 111h1v1h-1zM425 112h1v1h-1zM431 112h1v1h-1zM425 113h1v1h-1zM430 113h1v1h-1zM509 113h1v1h-1zM510 113h1v1h-1zM511 113h1v1h-1zM427 114h1v1h-1zM426 115h1v1h-1zM432 115h1v1h-1zM511 115h1v1h-1zM502 116h1v1h-1zM506 116h1v1h-1zM510 116h1v1h-1zM433 117h1v1h-1zM427 118h1v1h-1zM429 118h1v1h-1zM436 118h1v1h-1zM504 118h1v1h-1zM428 119h1v1h-1zM509 119h1v1h-1zM429 120h1v1h-1zM509 120h1v1h-1zM430 121h1v1h-1zM497 121h1v1h-1zM431 122h1v1h-1zM435 122h1v1h-1zM436 122h1v1h-1zM506 122h1v1h-1zM439 123h1v1h-1zM431 124h1v1h-1zM434 124h1v1h-1zM435 124h1v1h-1zM482 124h1v1h-1zM505 124h1v1h-1zM434 125h1v1h-1zM437 125h1v1h-1zM503 125h1v1h-1zM432 126h1v1h-1zM437 126h1v1h-1zM500 126h1v1h-1zM501 126h1v1h-1zM502 126h1v1h-1zM503 126h1v1h-1zM432 127h1v1h-1zM433 127h1v1h-1zM440 127h1v1h-1zM463 127h1v1h-1zM472 127h1v1h-1zM495 127h1v1h-1zM499 127h1v1h-1zM501 127h1v1h-1zM437 128h1v1h-1zM442 128h1v1h-1zM477 128h1v1h-1zM493 128h1v1h-1zM497 128h1v1h-1zM501 128h1v1h-1zM436 129h1v1h-1zM447 129h1v1h-1zM491 129h1v1h-1zM496 129h1v1h-1zM497 129h1v1h-1zM434 130h1v1h-1zM435 130h1v1h-1zM436 130h1v1h-1zM439 130h1v1h-1zM445 130h1v1h-1zM483 130h1v1h-1zM490 130h1v1h-1zM435 131h1v1h-1zM436 131h1v1h-1zM437 131h1v1h-1zM440 131h1v1h-1zM443 131h1v1h-1zM448 131h1v1h-1zM479 131h1v1h-1zM492 131h1v1h-1zM496 131h1v1h-1zM437 132h1v1h-1zM443 132h1v1h-1zM453 132h1v1h-1zM473 132h1v1h-1zM479 132h1v1h-1zM481 132h1v1h-1zM485 132h1v1h-1zM488 132h1v1h-1zM489 132h1v1h-1zM490 132h1v1h-1zM492 132h1v1h-1zM451 133h1v1h-1zM460 133h1v1h-1zM471 133h1v1h-1zM472 133h1v1h-1zM483 133h1v1h-1zM493 133h1v1h-1zM440 134h1v1h-1zM446 134h1v1h-1zM448 134h1v1h-1zM459 134h1v1h-1zM479 134h1v1h-1zM486 134h1v1h-1zM491 134h1v1h-1zM438 135h1v1h-1zM440 135h1v1h-1zM441 135h1v1h-1zM449 135h1v1h-1zM458 135h1v1h-1zM466 135h1v1h-1zM482 135h1v1h-1zM484 135h1v1h-1zM489 135h1v1h-1zM441 136h1v1h-1zM449 136h1v1h-1zM475 136h1v1h-1zM484 136h1v1h-1zM485 136h1v1h-1zM441 137h1v1h-1zM455 137h1v1h-1zM466 137h1v1h-1zM472 137h1v1h-1zM484 137h1v1h-1zM485 137h1v1h-1zM444 138h1v1h-1zM449 138h1v1h-1zM460 138h1v1h-1zM467 138h1v1h-1zM468 138h1v1h-1zM476 138h1v1h-1zM462 139h1v1h-1zM464 139h1v1h-1zM465 139h1v1h-1zM472 139h1v1h-1zM473 139h1v1h-1zM480 139h1v1h-1zM450 140h1v1h-1zM453 140h1v1h-1zM463 140h1v1h-1zM466 140h1v1h-1zM467 140h1v1h-1zM471 140h1v1h-1zM473 140h1v1h-1zM474 140h1v1h-1zM454 141h1v1h-1zM457 141h1v1h-1zM458 141h1v1h-1zM462 141h1v1h-1zM466 141h1v1h-1zM468 141h1v1h-1zM469 141h1v1h-1zM470 141h1v1h-1z" fill="#ffffff" opacity="0.6"/>
<path d="M447 38h1v1h-1zM465 39h1v1h-1zM445 41h1v1h-1zM455 41h1v1h-1zM482 41h1v1h-1zM480 44h1v1h-1zM487 44h1v1h-1zM489 45h1v1h-1zM473 46h1v1h-1zM445 47h1v1h-1zM494 48h1v1h-1zM447 49h1v1h-1zM463 49h1v1h-1zM488 49h1v1h-1zM468 50h1v1h-1zM481 51h1v1h-1zM466 53h1v1h-1zM498 53h1v1h-1zM520 53h1v1h-1zM502 54h1v1h-1zM466 55h1v1h-1zM498 55h1v1h-1zM451 56h1v1h-1zM456 56h1v1h-1zM449 57h1v1h-1zM500 57h1v1h-1zM453 58h1v1h-1zM457 58h1v1h-1zM462 58h1v1h-1zM468 58h1v1h-1zM469 58h1v1h-1zM473 58h1v1h-1zM458 59h1v1h-1zM477 59h1v1h-1zM494 59h1v1h-1zM495 59h1v1h-1zM496 59h1v1h-1zM448 60h1v1h-1zM450 60h1v1h-1zM462 60h1v1h-1zM465 60h1v1h-1zM466 60h1v1h-1zM469 60h1v1h-1zM474 60h1v1h-1zM479 60h1v1h-1zM480 60h1v1h-1zM486 60h1v1h-1zM446 61h1v1h-1zM450 61h1v1h-1zM458 61h1v1h-1zM460 61h1v1h-1zM462 61h1v1h-1zM463 61h1v1h-1zM465 61h1v1h-1zM475 61h1v1h-1zM486 61h1v1h-1zM498 61h1v1h-1zM518 61h1v1h-1zM454 62h1v1h-1zM456 62h1v1h-1zM458 62h1v1h-1zM463 62h1v1h-1zM467 62h1v1h-1zM474 62h1v1h-1zM479 62h1v1h-1zM480 62h1v1h-1zM486 62h1v1h-1zM496 62h1v1h-1zM498 62h1v1h-1zM503 62h1v1h-1zM447 63h1v1h-1zM453 63h1v1h-1zM461 63h1v1h-1zM466 63h1v1h-1zM468 63h1v1h-1zM469 63h1v1h-1zM477 63h1v1h-1zM481 63h1v1h-1zM482 63h1v1h-1zM503 63h1v1h-1zM447 64h1v1h-1zM453 64h1v1h-1zM457 64h1v1h-1zM460 64h1v1h-1zM463 64h1v1h-1zM465 64h1v1h-1zM466 64h1v1h-1zM467 64h1v1h-1zM469 64h1v1h-1zM475 64h1v1h-1zM477 64h1v1h-1zM479 64h1v1h-1zM480 64h1v1h-1zM485 64h1v1h-1zM487 64h1v1h-1zM492 64h1v1h-1zM494 64h1v1h-1zM513 64h1v1h-1zM439 65h1v1h-1zM450 65h1v1h-1zM453 65h1v1h-1zM454 65h1v1h-1zM458 65h1v1h-1zM460 65h1v1h-1zM463 65h1v1h-1zM464 65h1v1h-1zM465 65h1v1h-1zM466 65h1v1h-1zM470 65h1v1h-1zM472 65h1v1h-1zM473 65h1v1h-1zM478 65h1v1h-1zM480 65h1v1h-1zM482 65h1v1h-1zM493 65h1v1h-1zM449 66h1v1h-1zM451 66h1v1h-1zM452 66h1v1h-1zM461 66h1v1h-1zM462 66h1v1h-1zM463 66h1v1h-1zM464 66h1v1h-1zM468 66h1v1h-1zM469 66h1v1h-1zM470 66h1v1h-1zM471 66h1v1h-1zM480 66h1v1h-1zM481 66h1v1h-1zM451 67h1v1h-1zM453 67h1v1h-1zM456 67h1v1h-1zM458 67h1v1h-1zM459 67h1v1h-1zM460 67h1v1h-1zM462 67h1v1h-1zM463 67h1v1h-1zM464 67h1v1h-1zM466 67h1v1h-1zM468 67h1v1h-1zM469 67h1v1h-1zM470 67h1v1h-1zM471 67h1v1h-1zM472 67h1v1h-1zM473 67h1v1h-1zM476 67h1v1h-1zM478 67h1v1h-1zM479 67h1v1h-1zM481 67h1v1h-1zM482 67h1v1h-1zM486 67h1v1h-1zM488 67h1v1h-1zM489 67h1v1h-1zM452 68h1v1h-1zM454 68h1v1h-1zM455 68h1v1h-1zM456 68h1v1h-1zM457 68h1v1h-1zM468 68h1v1h-1zM469 68h1v1h-1zM470 68h1v1h-1zM471 68h1v1h-1zM473 68h1v1h-1zM474 68h1v1h-1zM475 68h1v1h-1zM476 68h1v1h-1zM477 68h1v1h-1zM445 69h1v1h-1zM452 69h1v1h-1zM454 69h1v1h-1zM479 69h1v1h-1zM481 69h1v1h-1zM485 69h1v1h-1zM487 69h1v1h-1zM427 70h1v1h-1zM447 70h1v1h-1zM450 70h1v1h-1zM451 70h1v1h-1zM453 70h1v1h-1zM475 70h1v1h-1zM476 70h1v1h-1zM478 70h1v1h-1zM479 70h1v1h-1zM483 70h1v1h-1zM485 70h1v1h-1zM488 70h1v1h-1zM492 70h1v1h-1zM445 71h1v1h-1zM450 71h1v1h-1zM451 71h1v1h-1zM452 71h1v1h-1zM480 71h1v1h-1zM481 71h1v1h-1zM483 71h1v1h-1zM484 71h1v1h-1zM485 71h1v1h-1zM493 71h1v1h-1zM494 71h1v1h-1zM497 71h1v1h-1zM506 71h1v1h-1zM445 72h1v1h-1zM450 72h1v1h-1zM451 72h1v1h-1zM479 72h1v1h-1zM481 72h1v1h-1zM487 72h1v1h-1zM489 72h1v1h-1zM512 72h1v1h-1zM440 73h1v1h-1zM447 73h1v1h-1zM448 73h1v1h-1zM451 73h1v1h-1zM480 73h1v1h-1zM481 73h1v1h-1zM482 73h1v1h-1zM484 73h1v1h-1zM487 73h1v1h-1zM489 73h1v1h-1zM492 73h1v1h-1zM495 73h1v1h-1zM497 73h1v1h-1zM499 73h1v1h-1zM438 74h1v1h-1zM444 74h1v1h-1zM450 74h1v1h-1zM482 74h1v1h-1zM485 74h1v1h-1zM497 74h1v1h-1zM501 74h1v1h-1zM484 75h1v1h-1zM485 75h1v1h-1zM486 75h1v1h-1zM488 75h1v1h-1zM489 75h1v1h-1zM497 75h1v1h-1zM499 75h1v1h-1zM500 75h1v1h-1zM513 75h1v1h-1zM446 76h1v1h-1zM485 76h1v1h-1zM486 76h1v1h-1zM489 76h1v1h-1zM493 76h1v1h-1zM494 76h1v1h-1zM437 77h1v1h-1zM445 77h1v1h-1zM448 77h1v1h-1zM487 77h1v1h-1zM491 77h1v1h-1zM493 77h1v1h-1zM494 77h1v1h-1zM497 77h1v1h-1zM444 78h1v1h-1zM489 78h1v1h-1zM490 78h1v1h-1zM495 78h1v1h-1zM496 78h1v1h-1zM508 78h1v1h-1zM518 78h1v1h-1zM433 79h1v1h-1zM434 79h1v1h-1zM445 79h1v1h-1zM446 79h1v1h-1zM490 79h1v1h-1zM492 79h1v1h-1zM496 79h1v1h-1zM499 79h1v1h-1zM440 80h1v1h-1zM444 80h1v1h-1zM491 80h1v1h-1zM493 80h1v1h-1zM494 80h1v1h-1zM495 80h1v1h-1zM511 80h1v1h-1zM530 80h1v1h-1zM435 81h1v1h-1zM438 81h1v1h-1zM442 81h1v1h-1zM443 81h1v1h-1zM492 81h1v1h-1zM508 81h1v1h-1zM427 82h1v1h-1zM435 82h1v1h-1zM439 82h1v1h-1zM440 82h1v1h-1zM493 82h1v1h-1zM494 82h1v1h-1zM495 82h1v1h-1zM498 82h1v1h-1zM499 82h1v1h-1zM502 82h1v1h-1zM508 82h1v1h-1zM424 83h1v1h-1zM435 83h1v1h-1zM436 83h1v1h-1zM437 83h1v1h-1zM440 83h1v1h-1zM496 83h1v1h-1zM497 83h1v1h-1zM498 83h1v1h-1zM502 83h1v1h-1zM510 83h1v1h-1zM434 84h1v1h-1zM435 84h1v1h-1zM439 84h1v1h-1zM497 84h1v1h-1zM519 84h1v1h-1zM436 85h1v1h-1zM437 85h1v1h-1zM496 85h1v1h-1zM497 85h1v1h-1zM498 85h1v1h-1zM501 85h1v1h-1zM514 85h1v1h-1zM516 85h1v1h-1zM414 86h1v1h-1zM433 86h1v1h-1zM434 86h1v1h-1zM497 86h1v1h-1zM499 86h1v1h-1zM500 86h1v1h-1zM502 86h1v1h-1zM506 86h1v1h-1zM508 86h1v1h-1zM509 86h1v1h-1zM430 87h1v1h-1zM433 87h1v1h-1zM499 87h1v1h-1zM523 87h1v1h-1zM425 88h1v1h-1zM427 88h1v1h-1zM432 88h1v1h-1zM433 88h1v1h-1zM434 88h1v1h-1zM500 88h1v1h-1zM502 88h1v1h-1zM518 88h1v1h-1zM529 88h1v1h-1zM428 89h1v1h-1zM431 89h1v1h-1zM433 89h1v1h-1zM504 89h1v1h-1zM514 89h1v1h-1zM523 89h1v1h-1zM423 90h1v1h-1zM429 90h1v1h-1zM430 90h1v1h-1zM433 90h1v1h-1zM501 90h1v1h-1zM504 90h1v1h-1zM510 90h1v1h-1zM427 91h1v1h-1zM429 91h1v1h-1zM432 91h1v1h-1zM502 91h1v1h-1zM504 91h1v1h-1zM505 91h1v1h-1zM506 91h1v1h-1zM510 91h1v1h-1zM515 91h1v1h-1zM427 92h1v1h-1zM430 92h1v1h-1zM504 92h1v1h-1zM505 92h1v1h-1zM506 92h1v1h-1zM508 92h1v1h-1zM525 92h1v1h-1zM423 93h1v1h-1zM426 93h1v1h-1zM428 93h1v1h-1zM429 93h1v1h-1zM508 93h1v1h-1zM513 93h1v1h-1zM514 93h1v1h-1zM526 93h1v1h-1zM531 93h1v1h-1zM423 94h1v1h-1zM428 94h1v1h-1zM429 94h1v1h-1zM504 94h1v1h-1zM508 94h1v1h-1zM510 94h1v1h-1zM511 94h1v1h-1zM515 94h1v1h-1zM517 94h1v1h-1zM519 94h1v1h-1zM420 95h1v1h-1zM427 95h1v1h-1zM428 95h1v1h-1zM429 95h1v1h-1zM505 95h1v1h-1zM506 95h1v1h-1zM508 95h1v1h-1zM511 95h1v1h-1zM514 95h1v1h-1zM521 95h1v1h-1zM426 96h1v1h-1zM427 96h1v1h-1zM506 96h1v1h-1zM507 96h1v1h-1zM509 96h1v1h-1zM507 97h1v1h-1zM508 97h1v1h-1zM510 97h1v1h-1zM418 98h1v1h-1zM425 98h1v1h-1zM508 98h1v1h-1zM509 98h1v1h-1zM510 98h1v1h-1zM511 98h1v1h-1zM519 98h1v1h-1zM524 98h1v1h-1zM419 99h1v1h-1zM421 99h1v1h-1zM426 99h1v1h-1zM509 99h1v1h-1zM510 99h1v1h-1zM512 99h1v1h-1zM514 99h1v1h-1zM515 99h1v1h-1zM520 99h1v1h-1zM420 100h1v1h-1zM422 100h1v1h-1zM425 100h1v1h-1zM510 100h1v1h-1zM515 100h1v1h-1zM518 100h1v1h-1zM414 101h1v1h-1zM418 101h1v1h-1zM422 101h1v1h-1zM423 101h1v1h-1zM510 101h1v1h-1zM513 101h1v1h-1zM518 101h1v1h-1zM412 102h1v1h-1zM423 102h1v1h-1zM424 102h1v1h-1zM511 102h1v1h-1zM517 102h1v1h-1zM414 103h1v1h-1zM419 103h1v1h-1zM420 103h1v1h-1zM511 103h1v1h-1zM513 103h1v1h-1zM529 103h1v1h-1zM531 103h1v1h-1zM409 104h1v1h-1zM417 104h1v1h-1zM419 104h1v1h-1zM421 104h1v1h-1zM422 104h1v1h-1zM423 104h1v1h-1zM513 104h1v1h-1zM514 104h1v1h-1zM517 104h1v1h-1zM531 104h1v1h-1zM533 104h1v1h-1zM421 105h1v1h-1zM513 105h1v1h-1zM514 105h1v1h-1zM515 105h1v1h-1zM516 105h1v1h-1zM517 105h1v1h-1zM524 105h1v1h-1zM525 105h1v1h-1zM408 106h1v1h-1zM422 106h1v1h-1zM513 106h1v1h-1zM514 106h1v1h-1zM516 106h1v1h-1zM522 106h1v1h-1zM419 107h1v1h-1zM421 107h1v1h-1zM422 107h1v1h-1zM513 107h1v1h-1zM514 107h1v1h-1zM515 107h1v1h-1zM522 107h1v1h-1zM416 108h1v1h-1zM420 108h1v1h-1zM423 108h1v1h-1zM513 108h1v1h-1zM516 108h1v1h-1zM518 108h1v1h-1zM523 108h1v1h-1zM418 109h1v1h-1zM423 109h1v1h-1zM513 109h1v1h-1zM514 109h1v1h-1zM524 109h1v1h-1zM526 109h1v1h-1zM420 110h1v1h-1zM514 110h1v1h-1zM522 110h1v1h-1zM423 111h1v1h-1zM424 111h1v1h-1zM513 111h1v1h-1zM520 111h1v1h-1zM521 111h1v1h-1zM414 112h1v1h-1zM417 112h1v1h-1zM420 112h1v1h-1zM423 112h1v1h-1zM424 112h1v1h-1zM513 112h1v1h-1zM515 112h1v1h-1zM518 112h1v1h-1zM522 112h1v1h-1zM420 113h1v1h-1zM422 113h1v1h-1zM512 113h1v1h-1zM513 113h1v1h-1zM516 113h1v1h-1zM520 113h1v1h-1zM409 114h1v1h-1zM414 114h1v1h-1zM417 114h1v1h-1zM419 114h1v1h-1zM420 114h1v1h-1zM424 114h1v1h-1zM425 114h1v1h-1zM512 114h1v1h-1zM515 114h1v1h-1zM526 114h1v1h-1zM422 115h1v1h-1zM512 115h1v1h-1zM513 115h1v1h-1zM514 115h1v1h-1zM515 115h1v1h-1zM518 115h1v1h-1zM420 116h1v1h-1zM422 116h1v1h-1zM425 116h1v1h-1zM513 116h1v1h-1zM514 116h1v1h-1zM517 116h1v1h-1zM519 116h1v1h-1zM525 116h1v1h-1zM418 117h1v1h-1zM420 117h1v1h-1zM425 117h1v1h-1zM511 117h1v1h-1zM512 117h1v1h-1zM513 117h1v1h-1zM514 117h1v1h-1zM517 117h1v1h-1zM523 117h1v1h-1zM416 118h1v1h-1zM420 118h1v1h-1zM424 118h1v1h-1zM512 118h1v1h-1zM513 118h1v1h-1zM514 118h1v1h-1zM516 118h1v1h-1zM521 118h1v1h-1zM523 118h1v1h-1zM427 119h1v1h-1zM426 120h1v1h-1zM427 120h1v1h-1zM513 120h1v1h-1zM514 120h1v1h-1zM422 121h1v1h-1zM427 121h1v1h-1zM428 121h1v1h-1zM509 121h1v1h-1zM510 121h1v1h-1zM511 121h1v1h-1zM515 121h1v1h-1zM517 121h1v1h-1zM520 121h1v1h-1zM521 121h1v1h-1zM524 121h1v1h-1zM424 122h1v1h-1zM428 122h1v1h-1zM508 122h1v1h-1zM511 122h1v1h-1zM516 122h1v1h-1zM424 123h1v1h-1zM426 123h1v1h-1zM428 123h1v1h-1zM429 123h1v1h-1zM507 123h1v1h-1zM516 123h1v1h-1zM421 124h1v1h-1zM426 124h1v1h-1zM429 124h1v1h-1zM508 124h1v1h-1zM509 124h1v1h-1zM510 124h1v1h-1zM512 124h1v1h-1zM420 125h1v1h-1zM425 125h1v1h-1zM428 125h1v1h-1zM429 125h1v1h-1zM430 125h1v1h-1zM508 125h1v1h-1zM511 125h1v1h-1zM431 126h1v1h-1zM505 126h1v1h-1zM507 126h1v1h-1zM522 126h1v1h-1zM430 127h1v1h-1zM504 127h1v1h-1zM506 127h1v1h-1zM509 127h1v1h-1zM421 128h1v1h-1zM431 128h1v1h-1zM432 128h1v1h-1zM502 128h1v1h-1zM504 128h1v1h-1zM505 128h1v1h-1zM526 128h1v1h-1zM417 129h1v1h-1zM429 129h1v1h-1zM431 129h1v1h-1zM501 129h1v1h-1zM513 129h1v1h-1zM515 129h1v1h-1zM516 129h1v1h-1zM519 129h1v1h-1zM430 130h1v1h-1zM433 130h1v1h-1zM503 130h1v1h-1zM504 130h1v1h-1zM509 130h1v1h-1zM510 130h1v1h-1zM529 130h1v1h-1zM426 131h1v1h-1zM434 131h1v1h-1zM498 131h1v1h-1zM499 131h1v1h-1zM501 131h1v1h-1zM503 131h1v1h-1zM504 131h1v1h-1zM433 132h1v1h-1zM434 132h1v1h-1zM435 132h1v1h-1zM496 132h1v1h-1zM498 132h1v1h-1zM501 132h1v1h-1zM503 132h1v1h-1zM505 132h1v1h-1zM507 132h1v1h-1zM508 132h1v1h-1zM509 132h1v1h-1zM526 132h1v1h-1zM428 133h1v1h-1zM430 133h1v1h-1zM434 133h1v1h-1zM435 133h1v1h-1zM494 133h1v1h-1zM496 133h1v1h-1zM497 133h1v1h-1zM503 133h1v1h-1zM418 134h1v1h-1zM433 134h1v1h-1zM434 134h1v1h-1zM436 134h1v1h-1zM493 134h1v1h-1zM495 134h1v1h-1zM508 134h1v1h-1zM520 134h1v1h-1zM521 134h1v1h-1zM522 134h1v1h-1zM431 135h1v1h-1zM435 135h1v1h-1zM436 135h1v1h-1zM437 135h1v1h-1zM492 135h1v1h-1zM493 135h1v1h-1zM509 135h1v1h-1zM433 136h1v1h-1zM435 136h1v1h-1zM438 136h1v1h-1zM489 136h1v1h-1zM491 136h1v1h-1zM494 136h1v1h-1zM496 136h1v1h-1zM498 136h1v1h-1zM501 136h1v1h-1zM503 136h1v1h-1zM513 136h1v1h-1zM525 136h1v1h-1zM433 137h1v1h-1zM435 137h1v1h-1zM437 137h1v1h-1zM438 137h1v1h-1zM489 137h1v1h-1zM492 137h1v1h-1zM496 137h1v1h-1zM498 137h1v1h-1zM506 137h1v1h-1zM508 137h1v1h-1zM510 137h1v1h-1zM429 138h1v1h-1zM437 138h1v1h-1zM439 138h1v1h-1zM483 138h1v1h-1zM485 138h1v1h-1zM487 138h1v1h-1zM488 138h1v1h-1zM489 138h1v1h-1zM490 138h1v1h-1zM492 138h1v1h-1zM497 138h1v1h-1zM504 138h1v1h-1zM505 138h1v1h-1zM518 138h1v1h-1zM439 139h1v1h-1zM440 139h1v1h-1zM482 139h1v1h-1zM483 139h1v1h-1zM484 139h1v1h-1zM485 139h1v1h-1zM487 139h1v1h-1zM488 139h1v1h-1zM494 139h1v1h-1zM499 139h1v1h-1zM500 139h1v1h-1zM524 139h1v1h-1zM438 140h1v1h-1zM441 140h1v1h-1zM445 140h1v1h-1zM446 140h1v1h-1zM477 140h1v1h-1zM478 140h1v1h-1zM479 140h1v1h-1zM482 140h1v1h-1zM487 140h1v1h-1zM490 140h1v1h-1zM492 140h1v1h-1zM504 140h1v1h-1zM506 140h1v1h-1zM510 140h1v1h-1zM437 141h1v1h-1zM442 141h1v1h-1zM446 141h1v1h-1zM447 141h1v1h-1zM448 141h1v1h-1zM450 141h1v1h-1zM475 141h1v1h-1zM477 141h1v1h-1zM479 141h1v1h-1zM481 141h1v1h-1zM483 141h1v1h-1zM484 141h1v1h-1zM486 141h1v1h-1zM496 141h1v1h-1zM504 141h1v1h-1zM512 141h1v1h-1zM442 142h1v1h-1zM447 142h1v1h-1zM451 142h1v1h-1zM454 142h1v1h-1zM455 142h1v1h-1zM457 142h1v1h-1zM458 142h1v1h-1zM459 142h1v1h-1zM461 142h1v1h-1zM463 142h1v1h-1zM464 142h1v1h-1zM466 142h1v1h-1zM467 142h1v1h-1zM469 142h1v1h-1zM471 142h1v1h-1zM472 142h1v1h-1zM473 142h1v1h-1zM474 142h1v1h-1zM475 142h1v1h-1zM477 142h1v1h-1zM478 142h1v1h-1zM479 142h1v1h-1zM487 142h1v1h-1zM488 142h1v1h-1zM491 142h1v1h-1zM497 142h1v1h-1zM504 142h1v1h-1zM440 143h1v1h-1zM441 143h1v1h-1zM447 143h1v1h-1zM448 143h1v1h-1zM452 143h1v1h-1zM453 143h1v1h-1zM455 143h1v1h-1zM456 143h1v1h-1zM460 143h1v1h-1zM461 143h1v1h-1zM462 143h1v1h-1zM465 143h1v1h-1zM468 143h1v1h-1zM469 143h1v1h-1zM470 143h1v1h-1zM475 143h1v1h-1zM486 143h1v1h-1zM493 143h1v1h-1zM496 143h1v1h-1zM437 144h1v1h-1zM441 144h1v1h-1zM442 144h1v1h-1zM446 144h1v1h-1zM451 144h1v1h-1zM453 144h1v1h-1zM454 144h1v1h-1zM457 144h1v1h-1zM462 144h1v1h-1zM463 144h1v1h-1zM464 144h1v1h-1zM466 144h1v1h-1zM467 144h1v1h-1zM468 144h1v1h-1zM473 144h1v1h-1zM478 144h1v1h-1zM487 144h1v1h-1zM500 144h1v1h-1zM503 144h1v1h-1zM435 145h1v1h-1zM456 145h1v1h-1zM457 145h1v1h-1zM458 145h1v1h-1zM460 145h1v1h-1zM462 145h1v1h-1zM468 145h1v1h-1zM470 145h1v1h-1zM481 145h1v1h-1zM489 145h1v1h-1zM496 145h1v1h-1zM531 145h1v1h-1zM442 146h1v1h-1zM444 146h1v1h-1zM445 146h1v1h-1zM453 146h1v1h-1zM465 146h1v1h-1zM471 146h1v1h-1zM474 146h1v1h-1zM486 146h1v1h-1zM442 147h1v1h-1zM458 147h1v1h-1zM463 147h1v1h-1zM466 147h1v1h-1zM473 147h1v1h-1zM501 147h1v1h-1zM435 148h1v1h-1zM439 148h1v1h-1zM445 148h1v1h-1zM448 148h1v1h-1zM456 148h1v1h-1zM461 148h1v1h-1zM468 148h1v1h-1zM477 148h1v1h-1zM488 148h1v1h-1zM490 148h1v1h-1zM522 148h1v1h-1zM432 149h1v1h-1zM436 149h1v1h-1zM460 149h1v1h-1zM472 149h1v1h-1zM475 149h1v1h-1zM491 149h1v1h-1zM444 150h1v1h-1zM451 150h1v1h-1zM456 150h1v1h-1zM485 150h1v1h-1zM500 150h1v1h-1zM446 151h1v1h-1zM483 151h1v1h-1zM491 151h1v1h-1zM439 152h1v1h-1zM461 152h1v1h-1zM470 152h1v1h-1zM489 152h1v1h-1zM497 152h1v1h-1zM507 152h1v1h-1zM468 155h1v1h-1zM520 155h1v1h-1zM446 156h1v1h-1zM464 157h1v1h-1zM472 159h1v1h-1zM455 160h1v1h-1zM461 160h1v1h-1zM462 160h1v1h-1zM491 160h1v1h-1zM532 160h1v1h-1zM497 161h1v1h-1zM450 163h1v1h-1zM474 163h1v1h-1zM452 164h1v1h-1zM485 164h1v1h-1zM439 165h1v1h-1zM447 165h1v1h-1zM448 165h1v1h-1zM524 165h1v1h-1zM432 166h1v1h-1zM468 166h1v1h-1zM467 167h1v1h-1zM475 168h1v1h-1zM498 169h1v1h-1zM440 170h1v1h-1zM444 170h1v1h-1zM480 172h1v1h-1zM496 172h1v1h-1zM447 173h1v1h-1zM485 173h1v1h-1zM502 174h1v1h-1zM450 138h1v1h-1zM479 138h1v1h-1zM456 138h1v1h-1zM484 138h1v1h-1zM451 138h1v1h-1zM492 138h1v1h-1zM475 138h1v1h-1zM439 138h1v1h-1zM499 138h1v1h-1zM457 138h1v1h-1zM500 138h1v1h-1zM457 138h1v1h-1zM504 138h1v1h-1zM496 138h1v1h-1zM468 138h1v1h-1zM491 138h1v1h-1zM483 138h1v1h-1zM480 138h1v1h-1zM456 138h1v1h-1zM500 138h1v1h-1zM488 138h1v1h-1zM480 138h1v1h-1zM485 138h1v1h-1zM448 138h1v1h-1zM435 138h1v1h-1zM502 138h1v1h-1zM452 138h1v1h-1zM444 138h1v1h-1zM496 138h1v1h-1zM478 138h1v1h-1zM434 138h1v1h-1zM458 138h1v1h-1zM433 138h1v1h-1zM500 138h1v1h-1zM435 138h1v1h-1zM449 138h1v1h-1zM479 138h1v1h-1zM473 138h1v1h-1zM442 138h1v1h-1zM458 138h1v1h-1zM460 142h1v1h-1zM479 142h1v1h-1zM430 142h1v1h-1zM468 142h1v1h-1zM479 142h1v1h-1zM486 142h1v1h-1zM479 142h1v1h-1zM480 142h1v1h-1zM456 142h1v1h-1zM456 142h1v1h-1zM492 142h1v1h-1zM454 142h1v1h-1zM482 142h1v1h-1zM477 142h1v1h-1zM504 142h1v1h-1zM438 142h1v1h-1zM478 142h1v1h-1zM445 142h1v1h-1zM480 142h1v1h-1zM443 142h1v1h-1zM475 142h1v1h-1zM456 142h1v1h-1zM444 142h1v1h-1zM485 142h1v1h-1zM459 142h1v1h-1zM476 142h1v1h-1zM482 142h1v1h-1zM439 142h1v1h-1zM498 142h1v1h-1zM474 142h1v1h-1zM463 142h1v1h-1zM431 142h1v1h-1zM435 142h1v1h-1zM461 142h1v1h-1zM477 142h1v1h-1zM484 142h1v1h-1zM460 142h1v1h-1zM464 142h1v1h-1zM486 142h1v1h-1zM489 142h1v1h-1zM499 142h1v1h-1zM496 142h1v1h-1zM455 142h1v1h-1zM479 142h1v1h-1zM470 142h1v1h-1zM467 147h1v1h-1zM504 147h1v1h-1zM503 147h1v1h-1zM473 147h1v1h-1zM492 147h1v1h-1zM432 147h1v1h-1zM448 147h1v1h-1zM495 147h1v1h-1zM503 147h1v1h-1zM492 147h1v1h-1zM504 147h1v1h-1zM500 147h1v1h-1zM433 147h1v1h-1zM436 147h1v1h-1zM494 147h1v1h-1zM506 147h1v1h-1zM458 147h1v1h-1zM461 147h1v1h-1zM480 147h1v1h-1zM462 147h1v1h-1zM483 147h1v1h-1zM447 147h1v1h-1zM491 147h1v1h-1zM498 147h1v1h-1zM440 147h1v1h-1zM497 147h1v1h-1zM502 147h1v1h-1zM488 147h1v1h-1zM496 147h1v1h-1zM457 147h1v1h-1zM503 147h1v1h-1zM475 147h1v1h-1zM449 147h1v1h-1zM506 147h1v1h-1zM454 147h1v1h-1zM446 147h1v1h-1zM504 147h1v1h-1zM450 147h1v1h-1zM461 147h1v1h-1zM448 147h1v1h-1zM475 151h1v1h-1zM446 151h1v1h-1zM465 151h1v1h-1zM462 151h1v1h-1zM440 151h1v1h-1zM449 151h1v1h-1zM476 151h1v1h-1zM492 151h1v1h-1zM488 151h1v1h-1zM437 151h1v1h-1zM447 151h1v1h-1zM461 151h1v1h-1zM491 151h1v1h-1zM460 151h1v1h-1zM464 151h1v1h-1zM457 151h1v1h-1zM448 151h1v1h-1zM458 151h1v1h-1zM445 151h1v1h-1zM454 151h1v1h-1zM467 151h1v1h-1zM497 151h1v1h-1zM471 151h1v1h-1zM498 151h1v1h-1zM476 151h1v1h-1zM490 151h1v1h-1zM485 151h1v1h-1zM480 151h1v1h-1zM493 155h1v1h-1zM485 155h1v1h-1zM463 155h1v1h-1zM440 155h1v1h-1zM487 155h1v1h-1zM455 155h1v1h-1zM491 155h1v1h-1zM489 155h1v1h-1zM490 155h1v1h-1zM479 155h1v1h-1zM462 155h1v1h-1zM467 155h1v1h-1zM490 155h1v1h-1zM493 155h1v1h-1zM473 160h1v1h-1zM473 160h1v1h-1zM461 160h1v1h-1zM478 160h1v1h-1zM473 160h1v1h-1zM450 160h1v1h-1zM479 160h1v1h-1zM446 160h1v1h-1zM462 164h1v1h-1zM446 164h1v1h-1zM465 164h1v1h-1zM450 164h1v1h-1zM477 164h1v1h-1zM482 164h1v1h-1zM454 164h1v1h-1zM476 164h1v1h-1zM453 168h1v1h-1zM470 168h1v1h-1zM451 168h1v1h-1zM469 168h1v1h-1zM467 168h1v1h-1zM490 48h1v1h-1zM474 48h1v1h-1zM465 48h1v1h-1zM461 48h1v1h-1zM466 48h1v1h-1zM473 48h1v1h-1zM469 48h1v1h-1zM471 48h1v1h-1zM491 48h1v1h-1zM491 48h1v1h-1zM458 48h1v1h-1zM465 48h1v1h-1zM468 48h1v1h-1zM472 48h1v1h-1zM464 48h1v1h-1zM468 48h1v1h-1zM468 55h1v1h-1zM485 55h1v1h-1zM483 55h1v1h-1zM475 55h1v1h-1zM477 55h1v1h-1zM471 55h1v1h-1zM464 55h1v1h-1zM483 55h1v1h-1zM463 55h1v1h-1zM460 55h1v1h-1zM481 61h1v1h-1zM478 61h1v1h-1zM461 61h1v1h-1zM461 61h1v1h-1zM484 61h1v1h-1zM492 61h1v1h-1zM471 61h1v1h-1zM466 61h1v1h-1zM475 61h1v1h-1zM460 61h1v1h-1zM473 61h1v1h-1zM482 61h1v1h-1zM469 61h1v1h-1zM462 61h1v1h-1z" fill="#9a9a9a"/>
<line x1="464.5" y1="38" x2="464.5" y2="174.5" stroke="#e6e6e6" stroke-width="0.8"/>
<line x1="396" y1="105.9" x2="533" y2="105.9" stroke="#dedede" stroke-width="0.8" stroke-dasharray="1 1"/>
<line x1="448.5" y1="37" x2="448.5" y2="174.7" stroke="#3c3c3c" stroke-width="0.9" stroke-dasharray="1 1"/>
<line x1="477.5" y1="37" x2="477.5" y2="174.7" stroke="#3c3c3c" stroke-width="0.9" stroke-dasharray="1 1"/>
<line x1="396" y1="78.5" x2="534" y2="78.5" stroke="#3c3c3c" stroke-width="0.9" stroke-dasharray="1 1"/>
<line x1="396" y1="133.5" x2="534" y2="133.5" stroke="#3c3c3c" stroke-width="0.9" stroke-dasharray="1 1"/>
<path d="M441.12 75.45h1.3v1.3h-1.3zM442.51 77.76h1.3v1.3h-1.3zM444.87 68.54h1.3v1.3h-1.3zM444.31 63.86h1.3v1.3h-1.3zM446.41 71.15h1.3v1.3h-1.3zM444.59 61.09h1.3v1.3h-1.3zM441.73 71.3h1.3v1.3h-1.3zM441.7 64.6h1.3v1.3h-1.3zM442.76 76.2h1.3v1.3h-1.3zM441.24 69.1h1.3v1.3h-1.3zM447.03 68.44h1.3v1.3h-1.3zM446.33 70.19h1.3v1.3h-1.3zM444.4 65.7h1.3v1.3h-1.3zM442.71 76.76h1.3v1.3h-1.3zM444.41 66.59h1.3v1.3h-1.3zM444.13 73.53h1.3v1.3h-1.3zM445.46 65.93h1.3v1.3h-1.3zM446.03 73.56h1.3v1.3h-1.3zM444.48 77.64h1.3v1.3h-1.3zM443.12 60.12h1.3v1.3h-1.3zM444.87 71.15h1.3v1.3h-1.3zM447.14 72.32h1.3v1.3h-1.3zM444.9 62.16h1.3v1.3h-1.3zM444.04 61.82h1.3v1.3h-1.3zM443.13 63.01h1.3v1.3h-1.3zM445.67 76.59h1.3v1.3h-1.3zM447.14 63.9h1.3v1.3h-1.3zM445.83 71.41h1.3v1.3h-1.3zM445.36 62.58h1.3v1.3h-1.3zM445.56 62.46h1.3v1.3h-1.3zM444.93 67.61h1.3v1.3h-1.3zM445.57 65.19h1.3v1.3h-1.3zM446.38 63.42h1.3v1.3h-1.3zM445.03 63.86h1.3v1.3h-1.3zM441.85 50.35h1.3v1.3h-1.3zM443.35 50.85h1.3v1.3h-1.3zM444.85 50.15h1.3v1.3h-1.3zM446.35 50.95h1.3v1.3h-1.3zM447.15 49.85h1.3v1.3h-1.3zM440.35 61.35h1.3v1.3h-1.3zM447.35 63.35h1.3v1.3h-1.3zM443.35 69.35h1.3v1.3h-1.3zM445.35 74.35h1.3v1.3h-1.3zM446.35 76.35h1.3v1.3h-1.3z" fill="#3aa8f0"/>
<line x1="436.8" y1="58.8" x2="446" y2="72.4" stroke="#333" stroke-width="0.6"/>
<line x1="435.8" y1="58.8" x2="441" y2="72.2" stroke="#333" stroke-width="0.6"/>
<line x1="432.5" y1="67.8" x2="440.5" y2="72" stroke="#333" stroke-width="0.6"/>
<line x1="435.5" y1="75.2" x2="436.8" y2="72.6" stroke="#333" stroke-width="0.6"/>
<rect x="435.7" y="71.7" width="1.6" height="1.6" fill="#f50a0a"/>
<rect x="440" y="71.8" width="1.6" height="1.6" fill="#f50a0a"/>
<rect x="445.1" y="71.8" width="1.6" height="1.6" fill="#f50a0a"/>
<text x="430" y="58.6" font-size="6.0" text-anchor="start" fill="#222" stroke="#222">SP8</text>
<text x="415.6" y="69.3" font-size="6.2" text-anchor="start" fill="#222" stroke="#222">FGF8</text>
<text x="419.8" y="77.6" font-size="5.6" text-anchor="start" fill="#222" stroke="#222">NQO1</text>
<line x1="395.7" y1="37.4" x2="395.7" y2="174.7" stroke="#c4c4c4" stroke-width="0.9"/>
<line x1="395.7" y1="174.7" x2="534" y2="174.7" stroke="#c4c4c4" stroke-width="0.9"/>
<line x1="393.5" y1="174.4" x2="395.7" y2="174.4" stroke="#c4c4c4" stroke-width="0.9"/>
<text x="392.6" y="176.9" font-size="7" text-anchor="end" fill="#141414" stroke="#141414">-10</text>
<line x1="393.5" y1="160.7" x2="395.7" y2="160.7" stroke="#c4c4c4" stroke-width="0.9"/>
<text x="392.6" y="163.2" font-size="7" text-anchor="end" fill="#141414" stroke="#141414">-8</text>
<line x1="393.5" y1="147" x2="395.7" y2="147" stroke="#c4c4c4" stroke-width="0.9"/>
<text x="392.6" y="149.5" font-size="7" text-anchor="end" fill="#141414" stroke="#141414">-6</text>
<line x1="393.5" y1="133.3" x2="395.7" y2="133.3" stroke="#c4c4c4" stroke-width="0.9"/>
<text x="392.6" y="135.8" font-size="7" text-anchor="end" fill="#141414" stroke="#141414">-4</text>
<line x1="393.5" y1="119.6" x2="395.7" y2="119.6" stroke="#c4c4c4" stroke-width="0.9"/>
<text x="392.6" y="122.1" font-size="7" text-anchor="end" fill="#141414" stroke="#141414">-2</text>
<line x1="393.5" y1="105.9" x2="395.7" y2="105.9" stroke="#c4c4c4" stroke-width="0.9"/>
<text x="392.6" y="108.4" font-size="7" text-anchor="end" fill="#141414" stroke="#141414">0</text>
<line x1="393.5" y1="92.2" x2="395.7" y2="92.2" stroke="#c4c4c4" stroke-width="0.9"/>
<text x="392.6" y="94.7" font-size="7" text-anchor="end" fill="#141414" stroke="#141414">2</text>
<line x1="393.5" y1="78.5" x2="395.7" y2="78.5" stroke="#c4c4c4" stroke-width="0.9"/>
<text x="392.6" y="81" font-size="7" text-anchor="end" fill="#141414" stroke="#141414">4</text>
<line x1="393.5" y1="64.8" x2="395.7" y2="64.8" stroke="#c4c4c4" stroke-width="0.9"/>
<text x="392.6" y="67.3" font-size="7" text-anchor="end" fill="#141414" stroke="#141414">6</text>
<line x1="393.5" y1="51.1" x2="395.7" y2="51.1" stroke="#c4c4c4" stroke-width="0.9"/>
<text x="392.6" y="53.6" font-size="7" text-anchor="end" fill="#141414" stroke="#141414">8</text>
<line x1="393.5" y1="37.4" x2="395.7" y2="37.4" stroke="#c4c4c4" stroke-width="0.9"/>
<text x="392.6" y="39.9" font-size="7" text-anchor="end" fill="#141414" stroke="#141414">10</text>
<line x1="409.9" y1="174.7" x2="409.9" y2="176.9" stroke="#c4c4c4" stroke-width="0.9"/>
<text x="409.9" y="186.1" font-size="7" text-anchor="middle" fill="#141414" stroke="#141414">-2</text>
<line x1="437.2" y1="174.7" x2="437.2" y2="176.9" stroke="#c4c4c4" stroke-width="0.9"/>
<text x="437.2" y="186.1" font-size="7" text-anchor="middle" fill="#141414" stroke="#141414">-1</text>
<line x1="464.5" y1="174.7" x2="464.5" y2="176.9" stroke="#c4c4c4" stroke-width="0.9"/>
<text x="464.5" y="186.1" font-size="7" text-anchor="middle" fill="#141414" stroke="#141414">0</text>
<line x1="491.8" y1="174.7" x2="491.8" y2="176.9" stroke="#c4c4c4" stroke-width="0.9"/>
<text x="491.8" y="186.1" font-size="7" text-anchor="middle" fill="#141414" stroke="#141414">1</text>
<line x1="519.1" y1="174.7" x2="519.1" y2="176.9" stroke="#c4c4c4" stroke-width="0.9"/>
<text x="519.1" y="186.1" font-size="7" text-anchor="middle" fill="#141414" stroke="#141414">2</text>
<text x="377.5" y="106" font-size="7.3" text-anchor="middle" fill="#141414" stroke="#141414" transform="rotate(-90 377.5 106)">fold change in gene expression [log2]</text>
<text x="464.5" y="198.4" font-size="7.1" text-anchor="middle" fill="#141414" stroke="#141414">fold change in methylation [log2]</text>
<line x1="400" y1="34.5" x2="531" y2="34.5" stroke="#1a1a1a" stroke-width="1.1"/>
<line x1="534.6" y1="38" x2="534.6" y2="170.5" stroke="#1a1a1a" stroke-width="1.1"/>
<path d="M396.8 34.5L402 32.4L402 36.6Z" fill="#1a1a1a"/>
<path d="M534.8 34.5L529.6 32.4L529.6 36.6Z" fill="#1a1a1a"/>
<path d="M534.6 35.2L532.5 40.2L536.7 40.2Z" fill="#1a1a1a"/>
<path d="M534.6 173.9L532.5 168.9L536.7 168.9Z" fill="#1a1a1a"/>
<text x="402.8" y="31.9" font-size="5.95" text-anchor="start" fill="#141414" stroke="#141414">Methylated in M-</text>
<text x="528" y="31.9" font-size="5.95" text-anchor="end" fill="#141414" stroke="#141414">Methylated in M+</text>
<text x="540" y="27.2" font-size="7.1" text-anchor="start" fill="#141414" stroke="#141414" transform="rotate(90 540 27.2)">High expression in M+</text>
<text x="540" y="118.5" font-size="7.1" text-anchor="start" fill="#141414" stroke="#141414" transform="rotate(90 540 118.5)">High expression in M-</text>
<line x1="45.9" y1="228.5" x2="45.9" y2="239.4" stroke="#c4c4c4" stroke-width="0.9"/>
<line x1="43.9" y1="239.4" x2="47.9" y2="239.4" stroke="#c4c4c4" stroke-width="0.9"/>
<line x1="45.9" y1="245.3" x2="45.9" y2="295.7" stroke="#c4c4c4" stroke-width="0.9"/>
<line x1="43.9" y1="245.3" x2="47.9" y2="245.3" stroke="#c4c4c4" stroke-width="0.9"/>
<line x1="45.9" y1="295.7" x2="94.9" y2="295.7" stroke="#c4c4c4" stroke-width="0.9"/>
<line x1="43.7" y1="232.4" x2="45.9" y2="232.4" stroke="#c4c4c4" stroke-width="0.9"/>
<text x="42.8" y="234.9" font-size="7" text-anchor="end" fill="#141414" stroke="#141414">0.4</text>
<line x1="43.7" y1="249.7" x2="45.9" y2="249.7" stroke="#c4c4c4" stroke-width="0.9"/>
<text x="42.8" y="252.2" font-size="7" text-anchor="end" fill="#141414" stroke="#141414">0.10</text>
<line x1="43.7" y1="272.7" x2="45.9" y2="272.7" stroke="#c4c4c4" stroke-width="0.9"/>
<text x="42.8" y="275.2" font-size="7" text-anchor="end" fill="#141414" stroke="#141414">0.05</text>
<line x1="43.7" y1="295.7" x2="45.9" y2="295.7" stroke="#c4c4c4" stroke-width="0.9"/>
<text x="42.8" y="298.2" font-size="7" text-anchor="end" fill="#141414" stroke="#141414">0.00</text>
<text x="58.4" y="306" font-size="7" text-anchor="middle" fill="#141414" stroke="#141414">NL</text>
<text x="82.9" y="306" font-size="7" text-anchor="middle" fill="#141414" stroke="#141414">HB</text>
<text x="24" y="261.4" font-size="6.85" text-anchor="middle" fill="#141414" stroke="#141414" transform="rotate(-90 24 261.4)">relative SP8 expression</text>
<line x1="135.8" y1="228.5" x2="135.8" y2="239.4" stroke="#c4c4c4" stroke-width="0.9"/>
<line x1="133.8" y1="239.4" x2="137.8" y2="239.4" stroke="#c4c4c4" stroke-width="0.9"/>
<line x1="135.8" y1="245.3" x2="135.8" y2="295.7" stroke="#c4c4c4" stroke-width="0.9"/>
<line x1="133.8" y1="245.3" x2="137.8" y2="245.3" stroke="#c4c4c4" stroke-width="0.9"/>
<line x1="135.8" y1="295.7" x2="184.8" y2="295.7" stroke="#c4c4c4" stroke-width="0.9"/>
<line x1="133.6" y1="232.4" x2="135.8" y2="232.4" stroke="#c4c4c4" stroke-width="0.9"/>
<text x="132.7" y="234.9" font-size="7" text-anchor="end" fill="#141414" stroke="#141414">0.4</text>
<line x1="133.6" y1="249.7" x2="135.8" y2="249.7" stroke="#c4c4c4" stroke-width="0.9"/>
<text x="132.7" y="252.2" font-size="7" text-anchor="end" fill="#141414" stroke="#141414">0.10</text>
<line x1="133.6" y1="272.7" x2="135.8" y2="272.7" stroke="#c4c4c4" stroke-width="0.9"/>
<text x="132.7" y="275.2" font-size="7" text-anchor="end" fill="#141414" stroke="#141414">0.05</text>
<line x1="133.6" y1="295.7" x2="135.8" y2="295.7" stroke="#c4c4c4" stroke-width="0.9"/>
<text x="132.7" y="298.2" font-size="7" text-anchor="end" fill="#141414" stroke="#141414">0.00</text>
<text x="148.2" y="306" font-size="7" text-anchor="middle" fill="#141414" stroke="#141414">M-</text>
<text x="172.8" y="306" font-size="7" text-anchor="middle" fill="#141414" stroke="#141414">M+</text>
<text x="113.9" y="261.4" font-size="6.85" text-anchor="middle" fill="#141414" stroke="#141414" transform="rotate(-90 113.9 261.4)">relative SP8 expression</text>
<line x1="220.4" y1="228.5" x2="220.4" y2="239.4" stroke="#c4c4c4" stroke-width="0.9"/>
<line x1="218.4" y1="239.4" x2="222.4" y2="239.4" stroke="#c4c4c4" stroke-width="0.9"/>
<line x1="220.4" y1="245.3" x2="220.4" y2="295.7" stroke="#c4c4c4" stroke-width="0.9"/>
<line x1="218.4" y1="245.3" x2="222.4" y2="245.3" stroke="#c4c4c4" stroke-width="0.9"/>
<line x1="220.4" y1="295.7" x2="269.4" y2="295.7" stroke="#c4c4c4" stroke-width="0.9"/>
<line x1="218.2" y1="232.4" x2="220.4" y2="232.4" stroke="#c4c4c4" stroke-width="0.9"/>
<text x="217.3" y="234.9" font-size="7" text-anchor="end" fill="#141414" stroke="#141414">0.4</text>
<line x1="218.2" y1="249.7" x2="220.4" y2="249.7" stroke="#c4c4c4" stroke-width="0.9"/>
<text x="217.3" y="252.2" font-size="7" text-anchor="end" fill="#141414" stroke="#141414">0.10</text>
<line x1="218.2" y1="272.7" x2="220.4" y2="272.7" stroke="#c4c4c4" stroke-width="0.9"/>
<text x="217.3" y="275.2" font-size="7" text-anchor="end" fill="#141414" stroke="#141414">0.05</text>
<line x1="218.2" y1="295.7" x2="220.4" y2="295.7" stroke="#c4c4c4" stroke-width="0.9"/>
<text x="217.3" y="298.2" font-size="7" text-anchor="end" fill="#141414" stroke="#141414">0.00</text>
<text x="233.4" y="306" font-size="7" text-anchor="middle" fill="#141414" stroke="#141414">C1</text>
<text x="258.8" y="306" font-size="7" text-anchor="middle" fill="#141414" stroke="#141414">C2</text>
<text x="198.5" y="261.4" font-size="6.85" text-anchor="middle" fill="#141414" stroke="#141414" transform="rotate(-90 198.5 261.4)">relative SP8 expression</text>
<line x1="58.9" y1="227.3" x2="83.1" y2="227.3" stroke="#787878" stroke-width="0.9"/>
<text x="65.8" y="227.5" font-size="10.5" text-anchor="middle" fill="#000" stroke="#000" style="font-weight:bold;">*</text>
<text x="70.8" y="227.5" font-size="10.5" text-anchor="middle" fill="#000" stroke="#000" style="font-weight:bold;">*</text>
<text x="75.8" y="227.5" font-size="10.5" text-anchor="middle" fill="#000" stroke="#000" style="font-weight:bold;">*</text>
<circle cx="50.26" cy="294.4" r="1.7" fill="#1c9cf0"/>
<circle cx="52.32" cy="294.4" r="1.7" fill="#1c9cf0"/>
<circle cx="54.35" cy="294.4" r="1.7" fill="#1c9cf0"/>
<circle cx="56.42" cy="294.4" r="1.7" fill="#1c9cf0"/>
<circle cx="58.32" cy="294.4" r="1.7" fill="#1c9cf0"/>
<circle cx="60.41" cy="294.4" r="1.7" fill="#1c9cf0"/>
<circle cx="61.96" cy="294.4" r="1.7" fill="#1c9cf0"/>
<circle cx="64.18" cy="294.4" r="1.7" fill="#1c9cf0"/>
<circle cx="66.42" cy="294.4" r="1.7" fill="#1c9cf0"/>
<circle cx="54.77" cy="292.9" r="1.7" fill="#1c9cf0"/>
<circle cx="58.4" cy="292.9" r="1.7" fill="#1c9cf0"/>
<circle cx="61.51" cy="292.9" r="1.7" fill="#1c9cf0"/>
<circle cx="58.18" cy="289.4" r="1.7" fill="#1c9cf0"/>
<line x1="75.3" y1="275.7" x2="91.7" y2="275.7" stroke="#6e6e6e" stroke-width="1.0"/>
<rect x="81.62" y="230.45" width="3.1" height="3.1" fill="#f50a0a"/>
<rect x="81.77" y="237.25" width="3.1" height="3.1" fill="#f50a0a"/>
<rect x="81.79" y="251.45" width="3.1" height="3.1" fill="#f50a0a"/>
<rect x="80.31" y="260.95" width="3.1" height="3.1" fill="#f50a0a"/>
<rect x="82.81" y="260.95" width="3.1" height="3.1" fill="#f50a0a"/>
<rect x="81.64" y="266.75" width="3.1" height="3.1" fill="#f50a0a"/>
<rect x="81.96" y="271.25" width="3.1" height="3.1" fill="#f50a0a"/>
<rect x="81.88" y="275.65" width="3.1" height="3.1" fill="#f50a0a"/>
<rect x="81.58" y="279.65" width="3.1" height="3.1" fill="#f50a0a"/>
<rect x="81.9" y="283.25" width="3.1" height="3.1" fill="#f50a0a"/>
<rect x="79.57" y="286.25" width="3.1" height="3.1" fill="#f50a0a"/>
<rect x="83.81" y="286.25" width="3.1" height="3.1" fill="#f50a0a"/>
<rect x="76.56" y="288.75" width="3.1" height="3.1" fill="#f50a0a"/>
<rect x="79.83" y="288.75" width="3.1" height="3.1" fill="#f50a0a"/>
<rect x="83.6" y="288.75" width="3.1" height="3.1" fill="#f50a0a"/>
<rect x="86.6" y="288.75" width="3.1" height="3.1" fill="#f50a0a"/>
<rect x="74.61" y="291.15" width="3.1" height="3.1" fill="#f50a0a"/>
<rect x="77.79" y="291.15" width="3.1" height="3.1" fill="#f50a0a"/>
<rect x="80.54" y="291.15" width="3.1" height="3.1" fill="#f50a0a"/>
<rect x="83.04" y="291.15" width="3.1" height="3.1" fill="#f50a0a"/>
<rect x="86.18" y="291.15" width="3.1" height="3.1" fill="#f50a0a"/>
<rect x="88.77" y="291.15" width="3.1" height="3.1" fill="#f50a0a"/>
<rect x="73.84" y="293.15" width="3.1" height="3.1" fill="#f50a0a"/>
<rect x="76.27" y="293.15" width="3.1" height="3.1" fill="#f50a0a"/>
<rect x="79.3" y="293.15" width="3.1" height="3.1" fill="#f50a0a"/>
<rect x="81.85" y="293.15" width="3.1" height="3.1" fill="#f50a0a"/>
<rect x="84.65" y="293.15" width="3.1" height="3.1" fill="#f50a0a"/>
<rect x="87.28" y="293.15" width="3.1" height="3.1" fill="#f50a0a"/>
<rect x="89.65" y="293.15" width="3.1" height="3.1" fill="#f50a0a"/>
<line x1="147.9" y1="227.2" x2="173" y2="227.2" stroke="#787878" stroke-width="0.9"/>
<text x="156" y="226.8" font-size="10.5" text-anchor="middle" fill="#000" stroke="#000" style="font-weight:bold;">*</text>
<text x="161" y="226.8" font-size="10.5" text-anchor="middle" fill="#000" stroke="#000" style="font-weight:bold;">*</text>
<circle cx="147.93" cy="254.5" r="1.7" fill="#1c9cf0"/>
<circle cx="147.83" cy="269.6" r="1.7" fill="#1c9cf0"/>
<circle cx="147.82" cy="273.8" r="1.7" fill="#1c9cf0"/>
<circle cx="147.78" cy="275.5" r="1.7" fill="#1c9cf0"/>
<circle cx="147.9" cy="278.1" r="1.7" fill="#1c9cf0"/>
<circle cx="148.05" cy="282.4" r="1.7" fill="#1c9cf0"/>
<circle cx="144.75" cy="288" r="1.7" fill="#1c9cf0"/>
<circle cx="148.09" cy="288" r="1.7" fill="#1c9cf0"/>
<circle cx="150.92" cy="288" r="1.7" fill="#1c9cf0"/>
<circle cx="142.9" cy="290.6" r="1.7" fill="#1c9cf0"/>
<circle cx="146.49" cy="290.6" r="1.7" fill="#1c9cf0"/>
<circle cx="149.66" cy="290.6" r="1.7" fill="#1c9cf0"/>
<circle cx="152.91" cy="290.6" r="1.7" fill="#1c9cf0"/>
<circle cx="140.99" cy="293" r="1.7" fill="#1c9cf0"/>
<circle cx="143.9" cy="293" r="1.7" fill="#1c9cf0"/>
<circle cx="146.38" cy="293" r="1.7" fill="#1c9cf0"/>
<circle cx="149.64" cy="293" r="1.7" fill="#1c9cf0"/>
<circle cx="151.96" cy="293" r="1.7" fill="#1c9cf0"/>
<circle cx="155.12" cy="293" r="1.7" fill="#1c9cf0"/>
<circle cx="140.17" cy="294.8" r="1.7" fill="#1c9cf0"/>
<circle cx="142.43" cy="294.8" r="1.7" fill="#1c9cf0"/>
<circle cx="145.48" cy="294.8" r="1.7" fill="#1c9cf0"/>
<circle cx="147.93" cy="294.8" r="1.7" fill="#1c9cf0"/>
<circle cx="150.71" cy="294.8" r="1.7" fill="#1c9cf0"/>
<circle cx="153.09" cy="294.8" r="1.7" fill="#1c9cf0"/>
<circle cx="155.77" cy="294.8" r="1.7" fill="#1c9cf0"/>
<line x1="139.8" y1="286.3" x2="155.9" y2="286.3" stroke="#6e6e6e" stroke-width="1.0"/>
<rect x="171.45" y="230.65" width="3.1" height="3.1" fill="#f50a0a"/>
<rect x="171.45" y="238.05" width="3.1" height="3.1" fill="#f50a0a"/>
<rect x="171.45" y="251.25" width="3.1" height="3.1" fill="#f50a0a"/>
<rect x="169.25" y="262.35" width="3.1" height="3.1" fill="#f50a0a"/>
<rect x="173.85" y="260.85" width="3.1" height="3.1" fill="#f50a0a"/>
<rect x="171.45" y="266.85" width="3.1" height="3.1" fill="#f50a0a"/>
<rect x="171.45" y="275.15" width="3.1" height="3.1" fill="#f50a0a"/>
<rect x="171.45" y="279.95" width="3.1" height="3.1" fill="#f50a0a"/>
<rect x="171.45" y="284.25" width="3.1" height="3.1" fill="#f50a0a"/>
<rect x="169.25" y="288.25" width="3.1" height="3.1" fill="#f50a0a"/>
<rect x="164.65" y="291.15" width="3.1" height="3.1" fill="#f50a0a"/>
<rect x="173.65" y="291.15" width="3.1" height="3.1" fill="#f50a0a"/>
<rect x="178.05" y="291.15" width="3.1" height="3.1" fill="#f50a0a"/>
<line x1="164.5" y1="258.1" x2="181.3" y2="258.1" stroke="#6e6e6e" stroke-width="1.0"/>
<line x1="233.7" y1="227.4" x2="258" y2="227.4" stroke="#787878" stroke-width="0.9"/>
<text x="240.3" y="226.8" font-size="10.5" text-anchor="middle" fill="#000" stroke="#000" style="font-weight:bold;">*</text>
<text x="245.3" y="226.8" font-size="10.5" text-anchor="middle" fill="#000" stroke="#000" style="font-weight:bold;">*</text>
<text x="250.3" y="226.8" font-size="10.5" text-anchor="middle" fill="#000" stroke="#000" style="font-weight:bold;">*</text>
<circle cx="233.24" cy="252.8" r="1.7" fill="#1c9cf0"/>
<circle cx="233.63" cy="263.9" r="1.7" fill="#1c9cf0"/>
<circle cx="233.25" cy="269.9" r="1.7" fill="#1c9cf0"/>
<circle cx="233.53" cy="275" r="1.7" fill="#1c9cf0"/>
<circle cx="233.61" cy="282.1" r="1.7" fill="#1c9cf0"/>
<circle cx="230.62" cy="288.3" r="1.7" fill="#1c9cf0"/>
<circle cx="233.32" cy="288.3" r="1.7" fill="#1c9cf0"/>
<circle cx="236.33" cy="288.3" r="1.7" fill="#1c9cf0"/>
<circle cx="228.41" cy="290.8" r="1.7" fill="#1c9cf0"/>
<circle cx="231.87" cy="290.8" r="1.7" fill="#1c9cf0"/>
<circle cx="234.87" cy="290.8" r="1.7" fill="#1c9cf0"/>
<circle cx="238.52" cy="290.8" r="1.7" fill="#1c9cf0"/>
<circle cx="227.05" cy="293" r="1.7" fill="#1c9cf0"/>
<circle cx="229.68" cy="293" r="1.7" fill="#1c9cf0"/>
<circle cx="231.87" cy="293" r="1.7" fill="#1c9cf0"/>
<circle cx="234.92" cy="293" r="1.7" fill="#1c9cf0"/>
<circle cx="237.1" cy="293" r="1.7" fill="#1c9cf0"/>
<circle cx="239.82" cy="293" r="1.7" fill="#1c9cf0"/>
<circle cx="225.96" cy="294.8" r="1.7" fill="#1c9cf0"/>
<circle cx="228.61" cy="294.8" r="1.7" fill="#1c9cf0"/>
<circle cx="230.82" cy="294.8" r="1.7" fill="#1c9cf0"/>
<circle cx="233.61" cy="294.8" r="1.7" fill="#1c9cf0"/>
<circle cx="235.92" cy="294.8" r="1.7" fill="#1c9cf0"/>
<circle cx="238.31" cy="294.8" r="1.7" fill="#1c9cf0"/>
<circle cx="240.81" cy="294.8" r="1.7" fill="#1c9cf0"/>
<line x1="225.1" y1="287.2" x2="241.9" y2="287.2" stroke="#6e6e6e" stroke-width="1.0"/>
<rect x="257.05" y="230.65" width="3.1" height="3.1" fill="#f50a0a"/>
<rect x="257.05" y="238.05" width="3.1" height="3.1" fill="#f50a0a"/>
<rect x="257.05" y="252.95" width="3.1" height="3.1" fill="#f50a0a"/>
<rect x="257.05" y="260.85" width="3.1" height="3.1" fill="#f50a0a"/>
<rect x="257.05" y="266.85" width="3.1" height="3.1" fill="#f50a0a"/>
<rect x="254.75" y="272.25" width="3.1" height="3.1" fill="#f50a0a"/>
<rect x="254.75" y="276.25" width="3.1" height="3.1" fill="#f50a0a"/>
<rect x="259.45" y="274.85" width="3.1" height="3.1" fill="#f50a0a"/>
<rect x="257.05" y="280.55" width="3.1" height="3.1" fill="#f50a0a"/>
<rect x="250.45" y="284.65" width="3.1" height="3.1" fill="#f50a0a"/>
<rect x="250.45" y="289.05" width="3.1" height="3.1" fill="#f50a0a"/>
<rect x="255.05" y="287.35" width="3.1" height="3.1" fill="#f50a0a"/>
<rect x="259.25" y="287.35" width="3.1" height="3.1" fill="#f50a0a"/>
<rect x="263.65" y="287.35" width="3.1" height="3.1" fill="#f50a0a"/>
<line x1="250.8" y1="259.8" x2="266.6" y2="259.8" stroke="#6e6e6e" stroke-width="1.0"/>
<line x1="45.3" y1="344.2" x2="45.3" y2="411.2" stroke="#c4c4c4" stroke-width="0.9"/>
<line x1="45.3" y1="411.2" x2="94.3" y2="411.2" stroke="#c4c4c4" stroke-width="0.9"/>
<line x1="43.1" y1="355.1" x2="45.3" y2="355.1" stroke="#c4c4c4" stroke-width="0.9"/>
<text x="42.2" y="357.6" font-size="7" text-anchor="end" fill="#141414" stroke="#141414">1.5</text>
<line x1="43.1" y1="373.8" x2="45.3" y2="373.8" stroke="#c4c4c4" stroke-width="0.9"/>
<text x="42.2" y="376.3" font-size="7" text-anchor="end" fill="#141414" stroke="#141414">1.0</text>
<line x1="43.1" y1="392.5" x2="45.3" y2="392.5" stroke="#c4c4c4" stroke-width="0.9"/>
<text x="42.2" y="395" font-size="7" text-anchor="end" fill="#141414" stroke="#141414">0.5</text>
<line x1="43.1" y1="411.2" x2="45.3" y2="411.2" stroke="#c4c4c4" stroke-width="0.9"/>
<text x="42.2" y="413.7" font-size="7" text-anchor="end" fill="#141414" stroke="#141414">0.0</text>
<text x="57.9" y="421" font-size="7" text-anchor="middle" fill="#141414" stroke="#141414">NL</text>
<text x="83.3" y="421" font-size="7" text-anchor="middle" fill="#141414" stroke="#141414">HB</text>
<text x="26.1" y="377.4" font-size="6.9" text-anchor="middle" fill="#141414" stroke="#141414" transform="rotate(-90 26.1 377.4)">relative FGF8 expression</text>
<line x1="135.4" y1="344.2" x2="135.4" y2="411.2" stroke="#c4c4c4" stroke-width="0.9"/>
<line x1="135.4" y1="411.2" x2="184.4" y2="411.2" stroke="#c4c4c4" stroke-width="0.9"/>
<line x1="133.2" y1="355.1" x2="135.4" y2="355.1" stroke="#c4c4c4" stroke-width="0.9"/>
<text x="132.3" y="357.6" font-size="7" text-anchor="end" fill="#141414" stroke="#141414">1.5</text>
<line x1="133.2" y1="373.8" x2="135.4" y2="373.8" stroke="#c4c4c4" stroke-width="0.9"/>
<text x="132.3" y="376.3" font-size="7" text-anchor="end" fill="#141414" stroke="#141414">1.0</text>
<line x1="133.2" y1="392.5" x2="135.4" y2="392.5" stroke="#c4c4c4" stroke-width="0.9"/>
<text x="132.3" y="395" font-size="7" text-anchor="end" fill="#141414" stroke="#141414">0.5</text>
<line x1="133.2" y1="411.2" x2="135.4" y2="411.2" stroke="#c4c4c4" stroke-width="0.9"/>
<text x="132.3" y="413.7" font-size="7" text-anchor="end" fill="#141414" stroke="#141414">0.0</text>
<text x="147.8" y="421" font-size="7" text-anchor="middle" fill="#141414" stroke="#141414">M-</text>
<text x="172.7" y="421" font-size="7" text-anchor="middle" fill="#141414" stroke="#141414">M+</text>
<text x="115.9" y="377.4" font-size="6.9" text-anchor="middle" fill="#141414" stroke="#141414" transform="rotate(-90 115.9 377.4)">relative FGF8 expression</text>
<line x1="220.4" y1="344.2" x2="220.4" y2="411.2" stroke="#c4c4c4" stroke-width="0.9"/>
<line x1="220.4" y1="411.2" x2="269.4" y2="411.2" stroke="#c4c4c4" stroke-width="0.9"/>
<line x1="218.2" y1="355.1" x2="220.4" y2="355.1" stroke="#c4c4c4" stroke-width="0.9"/>
<text x="217.3" y="357.6" font-size="7" text-anchor="end" fill="#141414" stroke="#141414">1.5</text>
<line x1="218.2" y1="373.8" x2="220.4" y2="373.8" stroke="#c4c4c4" stroke-width="0.9"/>
<text x="217.3" y="376.3" font-size="7" text-anchor="end" fill="#141414" stroke="#141414">1.0</text>
<line x1="218.2" y1="392.5" x2="220.4" y2="392.5" stroke="#c4c4c4" stroke-width="0.9"/>
<text x="217.3" y="395" font-size="7" text-anchor="end" fill="#141414" stroke="#141414">0.5</text>
<line x1="218.2" y1="411.2" x2="220.4" y2="411.2" stroke="#c4c4c4" stroke-width="0.9"/>
<text x="217.3" y="413.7" font-size="7" text-anchor="end" fill="#141414" stroke="#141414">0.0</text>
<text x="233.4" y="421" font-size="7" text-anchor="middle" fill="#141414" stroke="#141414">C1</text>
<text x="257.4" y="421" font-size="7" text-anchor="middle" fill="#141414" stroke="#141414">C2</text>
<text x="201.3" y="377.4" font-size="6.9" text-anchor="middle" fill="#141414" stroke="#141414" transform="rotate(-90 201.3 377.4)">relative FGF8 expression</text>
<line x1="58.2" y1="345.4" x2="83.8" y2="345.4" stroke="#787878" stroke-width="0.9"/>
<text x="70.6" y="344.5" font-size="10.5" text-anchor="middle" fill="#000" stroke="#000" style="font-weight:bold;">*</text>
<circle cx="49.14" cy="409.8" r="1.7" fill="#1c9cf0"/>
<circle cx="51.21" cy="409.8" r="1.7" fill="#1c9cf0"/>
<circle cx="53.37" cy="409.8" r="1.7" fill="#1c9cf0"/>
<circle cx="55.77" cy="409.8" r="1.7" fill="#1c9cf0"/>
<circle cx="58.05" cy="409.8" r="1.7" fill="#1c9cf0"/>
<circle cx="59.76" cy="409.8" r="1.7" fill="#1c9cf0"/>
<circle cx="61.82" cy="409.8" r="1.7" fill="#1c9cf0"/>
<circle cx="64.42" cy="409.8" r="1.7" fill="#1c9cf0"/>
<circle cx="66.32" cy="409.8" r="1.7" fill="#1c9cf0"/>
<circle cx="53.75" cy="408.2" r="1.7" fill="#1c9cf0"/>
<circle cx="56.34" cy="408.2" r="1.7" fill="#1c9cf0"/>
<circle cx="59.18" cy="408.2" r="1.7" fill="#1c9cf0"/>
<circle cx="61.96" cy="408.2" r="1.7" fill="#1c9cf0"/>
<circle cx="57.78" cy="401.2" r="1.7" fill="#1c9cf0"/>
<rect x="81.61" y="347.45" width="3.1" height="3.1" fill="#f50a0a"/>
<rect x="81.43" y="350.05" width="3.1" height="3.1" fill="#f50a0a"/>
<rect x="81.86" y="352.85" width="3.1" height="3.1" fill="#f50a0a"/>
<rect x="81.42" y="377.35" width="3.1" height="3.1" fill="#f50a0a"/>
<rect x="81.65" y="380.05" width="3.1" height="3.1" fill="#f50a0a"/>
<rect x="81.82" y="385.15" width="3.1" height="3.1" fill="#f50a0a"/>
<rect x="81.47" y="399.25" width="3.1" height="3.1" fill="#f50a0a"/>
<rect x="80.27" y="401.85" width="3.1" height="3.1" fill="#f50a0a"/>
<rect x="83.37" y="401.85" width="3.1" height="3.1" fill="#f50a0a"/>
<rect x="78.72" y="404.05" width="3.1" height="3.1" fill="#f50a0a"/>
<rect x="81.79" y="404.05" width="3.1" height="3.1" fill="#f50a0a"/>
<rect x="84.45" y="404.05" width="3.1" height="3.1" fill="#f50a0a"/>
<rect x="75.62" y="406.25" width="3.1" height="3.1" fill="#f50a0a"/>
<rect x="78.47" y="406.25" width="3.1" height="3.1" fill="#f50a0a"/>
<rect x="81.82" y="406.25" width="3.1" height="3.1" fill="#f50a0a"/>
<rect x="84.55" y="406.25" width="3.1" height="3.1" fill="#f50a0a"/>
<rect x="87.63" y="406.25" width="3.1" height="3.1" fill="#f50a0a"/>
<rect x="73.9" y="408.45" width="3.1" height="3.1" fill="#f50a0a"/>
<rect x="76.49" y="408.45" width="3.1" height="3.1" fill="#f50a0a"/>
<rect x="79.22" y="408.45" width="3.1" height="3.1" fill="#f50a0a"/>
<rect x="81.63" y="408.45" width="3.1" height="3.1" fill="#f50a0a"/>
<rect x="84.31" y="408.45" width="3.1" height="3.1" fill="#f50a0a"/>
<rect x="87.1" y="408.45" width="3.1" height="3.1" fill="#f50a0a"/>
<rect x="89.64" y="408.45" width="3.1" height="3.1" fill="#f50a0a"/>
<line x1="75.2" y1="403" x2="92.2" y2="403" stroke="#6e6e6e" stroke-width="1.0"/>
<line x1="147.5" y1="344.4" x2="173.1" y2="344.4" stroke="#787878" stroke-width="0.9"/>
<text x="160.5" y="344.2" font-size="10.5" text-anchor="middle" fill="#000" stroke="#000" style="font-weight:bold;">*</text>
<circle cx="147.9" cy="378.4" r="1.7" fill="#1c9cf0"/>
<circle cx="147.95" cy="400.8" r="1.7" fill="#1c9cf0"/>
<circle cx="147.82" cy="403.2" r="1.7" fill="#1c9cf0"/>
<circle cx="144.94" cy="405.5" r="1.7" fill="#1c9cf0"/>
<circle cx="148.24" cy="405.5" r="1.7" fill="#1c9cf0"/>
<circle cx="151.23" cy="405.5" r="1.7" fill="#1c9cf0"/>
<circle cx="142.56" cy="407.8" r="1.7" fill="#1c9cf0"/>
<circle cx="145.25" cy="407.8" r="1.7" fill="#1c9cf0"/>
<circle cx="147.92" cy="407.8" r="1.7" fill="#1c9cf0"/>
<circle cx="150.54" cy="407.8" r="1.7" fill="#1c9cf0"/>
<circle cx="153.39" cy="407.8" r="1.7" fill="#1c9cf0"/>
<circle cx="140.14" cy="410" r="1.7" fill="#1c9cf0"/>
<circle cx="142.85" cy="410" r="1.7" fill="#1c9cf0"/>
<circle cx="145.26" cy="410" r="1.7" fill="#1c9cf0"/>
<circle cx="148.14" cy="410" r="1.7" fill="#1c9cf0"/>
<circle cx="150.8" cy="410" r="1.7" fill="#1c9cf0"/>
<circle cx="153.43" cy="410" r="1.7" fill="#1c9cf0"/>
<circle cx="156.08" cy="410" r="1.7" fill="#1c9cf0"/>
<line x1="141.6" y1="407.7" x2="155.5" y2="407.7" stroke="#6e6e6e" stroke-width="1.0"/>
<rect x="171.95" y="346.75" width="3.1" height="3.1" fill="#f50a0a"/>
<rect x="171.95" y="352.45" width="3.1" height="3.1" fill="#f50a0a"/>
<rect x="171.95" y="379.85" width="3.1" height="3.1" fill="#f50a0a"/>
<rect x="171.95" y="384.45" width="3.1" height="3.1" fill="#f50a0a"/>
<rect x="171.95" y="399.25" width="3.1" height="3.1" fill="#f50a0a"/>
<rect x="171.95" y="401.95" width="3.1" height="3.1" fill="#f50a0a"/>
<rect x="169.45" y="404.45" width="3.1" height="3.1" fill="#f50a0a"/>
<rect x="164.95" y="407.75" width="3.1" height="3.1" fill="#f50a0a"/>
<rect x="167.65" y="407.75" width="3.1" height="3.1" fill="#f50a0a"/>
<rect x="174.45" y="407.75" width="3.1" height="3.1" fill="#f50a0a"/>
<rect x="178.25" y="407.75" width="3.1" height="3.1" fill="#f50a0a"/>
<rect x="171.45" y="407.75" width="3.1" height="3.1" fill="#f50a0a"/>
<line x1="165.1" y1="395.6" x2="181.8" y2="395.6" stroke="#6e6e6e" stroke-width="1.0"/>
<line x1="233.4" y1="349.4" x2="257.4" y2="349.4" stroke="#787878" stroke-width="0.9"/>
<text x="243" y="349.5" font-size="10.5" text-anchor="middle" fill="#000" stroke="#000" style="font-weight:bold;">*</text>
<text x="248" y="349.5" font-size="10.5" text-anchor="middle" fill="#000" stroke="#000" style="font-weight:bold;">*</text>
<circle cx="233.53" cy="400.8" r="1.7" fill="#1c9cf0"/>
<circle cx="230.33" cy="405.8" r="1.7" fill="#1c9cf0"/>
<circle cx="236.5" cy="405.8" r="1.7" fill="#1c9cf0"/>
<circle cx="227.29" cy="408" r="1.7" fill="#1c9cf0"/>
<circle cx="231.39" cy="408" r="1.7" fill="#1c9cf0"/>
<circle cx="235.53" cy="408" r="1.7" fill="#1c9cf0"/>
<circle cx="239.5" cy="408" r="1.7" fill="#1c9cf0"/>
<circle cx="225.3" cy="410" r="1.7" fill="#1c9cf0"/>
<circle cx="228.29" cy="410" r="1.7" fill="#1c9cf0"/>
<circle cx="230.81" cy="410" r="1.7" fill="#1c9cf0"/>
<circle cx="233.44" cy="410" r="1.7" fill="#1c9cf0"/>
<circle cx="235.82" cy="410" r="1.7" fill="#1c9cf0"/>
<circle cx="238.76" cy="410" r="1.7" fill="#1c9cf0"/>
<circle cx="241.28" cy="410" r="1.7" fill="#1c9cf0"/>
<line x1="224.3" y1="409.5" x2="241.4" y2="409.5" stroke="#3a3a3a" stroke-width="1.0"/>
<rect x="256.45" y="352.45" width="3.1" height="3.1" fill="#f50a0a"/>
<rect x="258.15" y="376.85" width="3.1" height="3.1" fill="#f50a0a"/>
<rect x="255.85" y="379.85" width="3.1" height="3.1" fill="#f50a0a"/>
<rect x="256.45" y="385.05" width="3.1" height="3.1" fill="#f50a0a"/>
<rect x="251.25" y="401.95" width="3.1" height="3.1" fill="#f50a0a"/>
<rect x="260.45" y="401.95" width="3.1" height="3.1" fill="#f50a0a"/>
<rect x="263.45" y="401.45" width="3.1" height="3.1" fill="#f50a0a"/>
<rect x="253.45" y="407.05" width="3.1" height="3.1" fill="#f50a0a"/>
<rect x="258.45" y="407.75" width="3.1" height="3.1" fill="#f50a0a"/>
<rect x="264.45" y="407.75" width="3.1" height="3.1" fill="#f50a0a"/>
<rect x="248.95" y="407.75" width="3.1" height="3.1" fill="#f50a0a"/>
<line x1="250.5" y1="397.8" x2="266.5" y2="397.8" stroke="#6e6e6e" stroke-width="1.0"/>
<line x1="311" y1="228.1" x2="311" y2="295.5" stroke="#c4c4c4" stroke-width="0.9"/>
<line x1="311" y1="295.5" x2="378.5" y2="295.5" stroke="#c4c4c4" stroke-width="0.9"/>
<line x1="308.8" y1="295.5" x2="311" y2="295.5" stroke="#c4c4c4" stroke-width="0.9"/>
<text x="308.5" y="297.95" font-size="6.9" text-anchor="end" fill="#141414" stroke="#141414">0</text>
<line x1="308.8" y1="283.16" x2="311" y2="283.16" stroke="#c4c4c4" stroke-width="0.9"/>
<text x="308.5" y="285.61" font-size="6.9" text-anchor="end" fill="#141414" stroke="#141414">20</text>
<line x1="308.8" y1="270.82" x2="311" y2="270.82" stroke="#c4c4c4" stroke-width="0.9"/>
<text x="308.5" y="273.27" font-size="6.9" text-anchor="end" fill="#141414" stroke="#141414">40</text>
<line x1="308.8" y1="258.48" x2="311" y2="258.48" stroke="#c4c4c4" stroke-width="0.9"/>
<text x="308.5" y="260.93" font-size="6.9" text-anchor="end" fill="#141414" stroke="#141414">60</text>
<line x1="308.8" y1="246.14" x2="311" y2="246.14" stroke="#c4c4c4" stroke-width="0.9"/>
<text x="308.5" y="248.59" font-size="6.9" text-anchor="end" fill="#141414" stroke="#141414">80</text>
<line x1="308.8" y1="233.8" x2="311" y2="233.8" stroke="#c4c4c4" stroke-width="0.9"/>
<text x="308.5" y="236.25" font-size="6.9" text-anchor="end" fill="#141414" stroke="#141414">100</text>
<line x1="311" y1="295.5" x2="311" y2="297.7" stroke="#c4c4c4" stroke-width="0.9"/>
<text x="311" y="305.8" font-size="6.9" text-anchor="middle" fill="#141414" stroke="#141414">0</text>
<line x1="321.77" y1="295.5" x2="321.77" y2="297.7" stroke="#c4c4c4" stroke-width="0.9"/>
<text x="321.77" y="305.8" font-size="6.9" text-anchor="middle" fill="#141414" stroke="#141414">12</text>
<line x1="332.53" y1="295.5" x2="332.53" y2="297.7" stroke="#c4c4c4" stroke-width="0.9"/>
<text x="332.53" y="305.8" font-size="6.9" text-anchor="middle" fill="#141414" stroke="#141414">24</text>
<line x1="343.3" y1="295.5" x2="343.3" y2="297.7" stroke="#c4c4c4" stroke-width="0.9"/>
<text x="343.3" y="305.8" font-size="6.9" text-anchor="middle" fill="#141414" stroke="#141414">36</text>
<line x1="354.07" y1="295.5" x2="354.07" y2="297.7" stroke="#c4c4c4" stroke-width="0.9"/>
<text x="354.07" y="305.8" font-size="6.9" text-anchor="middle" fill="#141414" stroke="#141414">48</text>
<line x1="364.83" y1="295.5" x2="364.83" y2="297.7" stroke="#c4c4c4" stroke-width="0.9"/>
<text x="364.83" y="305.8" font-size="6.9" text-anchor="middle" fill="#141414" stroke="#141414">60</text>
<line x1="375.6" y1="295.5" x2="375.6" y2="297.7" stroke="#c4c4c4" stroke-width="0.9"/>
<text x="375.6" y="305.8" font-size="6.9" text-anchor="middle" fill="#141414" stroke="#141414">72</text>
<text x="344.8" y="315.3" font-size="6.9" text-anchor="middle" fill="#141414" stroke="#141414">time (months)</text>
<text x="291.4" y="261" font-size="7.0" text-anchor="middle" fill="#141414" stroke="#141414" transform="rotate(-90 291.4 261)">Overall survival [%]</text>
<polyline points="311,233.6 322.5,233.6 322.5,240 323.3,240 323.3,246.6 324.3,246.6 324.3,251.4 335.3,251.4 335.3,255.7 378.4,255.7" fill="none" stroke="#f01414" stroke-width="1.3"/>
<polyline points="311,233.6 337.5,233.6 337.5,237.7 378.4,237.7" fill="none" stroke="#2aa6f0" stroke-width="1.3"/>
<line x1="315.6" y1="232.2" x2="315.6" y2="234.2" stroke="#111" stroke-width="0.8"/>
<line x1="318.5" y1="232.2" x2="318.5" y2="234.2" stroke="#111" stroke-width="0.8"/>
<line x1="321.4" y1="232.2" x2="321.4" y2="234.2" stroke="#111" stroke-width="0.8"/>
<line x1="326.3" y1="232.2" x2="326.3" y2="234.2" stroke="#111" stroke-width="0.8"/>
<line x1="330.6" y1="232.2" x2="330.6" y2="234.2" stroke="#111" stroke-width="0.8"/>
<line x1="334.6" y1="232.2" x2="334.6" y2="234.2" stroke="#111" stroke-width="0.8"/>
<line x1="339.2" y1="236.3" x2="339.2" y2="238.3" stroke="#111" stroke-width="0.8"/>
<line x1="342.7" y1="236.3" x2="342.7" y2="238.3" stroke="#111" stroke-width="0.8"/>
<line x1="355.6" y1="236.3" x2="355.6" y2="238.3" stroke="#111" stroke-width="0.8"/>
<line x1="360.8" y1="236.3" x2="360.8" y2="238.3" stroke="#111" stroke-width="0.8"/>
<line x1="364.6" y1="236.3" x2="364.6" y2="238.3" stroke="#111" stroke-width="0.8"/>
<line x1="369.8" y1="236.3" x2="369.8" y2="238.3" stroke="#111" stroke-width="0.8"/>
<line x1="374.6" y1="236.3" x2="374.6" y2="238.3" stroke="#111" stroke-width="0.8"/>
<line x1="338.9" y1="254.3" x2="338.9" y2="256.3" stroke="#111" stroke-width="0.8"/>
<line x1="341" y1="254.3" x2="341" y2="256.3" stroke="#111" stroke-width="0.8"/>
<line x1="348.7" y1="254.3" x2="348.7" y2="256.3" stroke="#111" stroke-width="0.8"/>
<line x1="352.2" y1="254.3" x2="352.2" y2="256.3" stroke="#111" stroke-width="0.8"/>
<line x1="361.2" y1="254.3" x2="361.2" y2="256.3" stroke="#111" stroke-width="0.8"/>
<line x1="364.3" y1="254.3" x2="364.3" y2="256.3" stroke="#111" stroke-width="0.8"/>
<line x1="370.3" y1="254.3" x2="370.3" y2="256.3" stroke="#111" stroke-width="0.8"/>
<text x="353.9" y="249.2" font-size="6" fill="#141414"><tspan font-style="italic">P</tspan> = 0.032</text>
<line x1="314.3" y1="282.9" x2="323.8" y2="282.9" stroke="#2aa6f0" stroke-width="1.3"/>
<line x1="314.3" y1="290.3" x2="323.8" y2="290.3" stroke="#f01414" stroke-width="1.3"/>
<line x1="319.1" y1="281.5" x2="319.1" y2="283.3" stroke="#111" stroke-width="0.7"/>
<line x1="319.1" y1="288.9" x2="319.1" y2="290.7" stroke="#111" stroke-width="0.7"/>
<text x="329" y="285" font-size="6.0" text-anchor="start" fill="#222" stroke="#222">SP8 low</text>
<text x="329" y="292.4" font-size="6.0" text-anchor="start" fill="#222" stroke="#222">SP8 high</text>
<line x1="311" y1="343.9" x2="311" y2="411.3" stroke="#c4c4c4" stroke-width="0.9"/>
<line x1="311" y1="411.3" x2="378.5" y2="411.3" stroke="#c4c4c4" stroke-width="0.9"/>
<line x1="308.8" y1="411.3" x2="311" y2="411.3" stroke="#c4c4c4" stroke-width="0.9"/>
<text x="308.5" y="413.75" font-size="6.9" text-anchor="end" fill="#141414" stroke="#141414">0</text>
<line x1="308.8" y1="398.96" x2="311" y2="398.96" stroke="#c4c4c4" stroke-width="0.9"/>
<text x="308.5" y="401.41" font-size="6.9" text-anchor="end" fill="#141414" stroke="#141414">20</text>
<line x1="308.8" y1="386.62" x2="311" y2="386.62" stroke="#c4c4c4" stroke-width="0.9"/>
<text x="308.5" y="389.07" font-size="6.9" text-anchor="end" fill="#141414" stroke="#141414">40</text>
<line x1="308.8" y1="374.28" x2="311" y2="374.28" stroke="#c4c4c4" stroke-width="0.9"/>
<text x="308.5" y="376.73" font-size="6.9" text-anchor="end" fill="#141414" stroke="#141414">60</text>
<line x1="308.8" y1="361.94" x2="311" y2="361.94" stroke="#c4c4c4" stroke-width="0.9"/>
<text x="308.5" y="364.39" font-size="6.9" text-anchor="end" fill="#141414" stroke="#141414">80</text>
<line x1="308.8" y1="349.6" x2="311" y2="349.6" stroke="#c4c4c4" stroke-width="0.9"/>
<text x="308.5" y="352.05" font-size="6.9" text-anchor="end" fill="#141414" stroke="#141414">100</text>
<line x1="311" y1="411.3" x2="311" y2="413.5" stroke="#c4c4c4" stroke-width="0.9"/>
<text x="311" y="421.6" font-size="6.9" text-anchor="middle" fill="#141414" stroke="#141414">0</text>
<line x1="321.77" y1="411.3" x2="321.77" y2="413.5" stroke="#c4c4c4" stroke-width="0.9"/>
<text x="321.77" y="421.6" font-size="6.9" text-anchor="middle" fill="#141414" stroke="#141414">12</text>
<line x1="332.53" y1="411.3" x2="332.53" y2="413.5" stroke="#c4c4c4" stroke-width="0.9"/>
<text x="332.53" y="421.6" font-size="6.9" text-anchor="middle" fill="#141414" stroke="#141414">24</text>
<line x1="343.3" y1="411.3" x2="343.3" y2="413.5" stroke="#c4c4c4" stroke-width="0.9"/>
<text x="343.3" y="421.6" font-size="6.9" text-anchor="middle" fill="#141414" stroke="#141414">36</text>
<line x1="354.07" y1="411.3" x2="354.07" y2="413.5" stroke="#c4c4c4" stroke-width="0.9"/>
<text x="354.07" y="421.6" font-size="6.9" text-anchor="middle" fill="#141414" stroke="#141414">48</text>
<line x1="364.83" y1="411.3" x2="364.83" y2="413.5" stroke="#c4c4c4" stroke-width="0.9"/>
<text x="364.83" y="421.6" font-size="6.9" text-anchor="middle" fill="#141414" stroke="#141414">60</text>
<line x1="375.6" y1="411.3" x2="375.6" y2="413.5" stroke="#c4c4c4" stroke-width="0.9"/>
<text x="375.6" y="421.6" font-size="6.9" text-anchor="middle" fill="#141414" stroke="#141414">72</text>
<text x="344.8" y="431.1" font-size="6.9" text-anchor="middle" fill="#141414" stroke="#141414">time (months)</text>
<text x="291.4" y="376.8" font-size="7.0" text-anchor="middle" fill="#141414" stroke="#141414" transform="rotate(-90 291.4 376.8)">Overall survival [%]</text>
<polyline points="311,349.6 315.6,349.6 315.6,353.5 322.5,353.5 322.5,359 323.7,359 323.7,366.8 335.3,366.8 335.3,371.4 378.4,371.4" fill="none" stroke="#f01414" stroke-width="1.3"/>
<polyline points="311,349.6 322.8,349.6 322.8,352.4 337.5,352.4 337.5,356.8 378.4,356.8" fill="none" stroke="#2aa6f0" stroke-width="1.3"/>
<line x1="319" y1="348.2" x2="319" y2="350.2" stroke="#111" stroke-width="0.8"/>
<line x1="326.3" y1="351" x2="326.3" y2="353" stroke="#111" stroke-width="0.8"/>
<line x1="329.4" y1="351" x2="329.4" y2="353" stroke="#111" stroke-width="0.8"/>
<line x1="332.3" y1="351" x2="332.3" y2="353" stroke="#111" stroke-width="0.8"/>
<line x1="334.9" y1="351" x2="334.9" y2="353" stroke="#111" stroke-width="0.8"/>
<line x1="338.4" y1="355.4" x2="338.4" y2="357.4" stroke="#111" stroke-width="0.8"/>
<line x1="340.4" y1="355.4" x2="340.4" y2="357.4" stroke="#111" stroke-width="0.8"/>
<line x1="354.8" y1="355.4" x2="354.8" y2="357.4" stroke="#111" stroke-width="0.8"/>
<line x1="357.4" y1="355.4" x2="357.4" y2="357.4" stroke="#111" stroke-width="0.8"/>
<line x1="361.7" y1="355.4" x2="361.7" y2="357.4" stroke="#111" stroke-width="0.8"/>
<line x1="366" y1="355.4" x2="366" y2="357.4" stroke="#111" stroke-width="0.8"/>
<line x1="368.6" y1="355.4" x2="368.6" y2="357.4" stroke="#111" stroke-width="0.8"/>
<line x1="371.2" y1="355.4" x2="371.2" y2="357.4" stroke="#111" stroke-width="0.8"/>
<line x1="374.6" y1="355.4" x2="374.6" y2="357.4" stroke="#111" stroke-width="0.8"/>
<line x1="345.3" y1="370" x2="345.3" y2="372" stroke="#111" stroke-width="0.8"/>
<line x1="348.7" y1="370" x2="348.7" y2="372" stroke="#111" stroke-width="0.8"/>
<line x1="353" y1="370" x2="353" y2="372" stroke="#111" stroke-width="0.8"/>
<line x1="360.8" y1="370" x2="360.8" y2="372" stroke="#111" stroke-width="0.8"/>
<line x1="364.3" y1="370" x2="364.3" y2="372" stroke="#111" stroke-width="0.8"/>
<line x1="369.8" y1="370" x2="369.8" y2="372" stroke="#111" stroke-width="0.8"/>
<text x="354.8" y="366.6" font-size="6" fill="#141414"><tspan font-style="italic">P</tspan> = 0.082</text>
<line x1="314.3" y1="398.9" x2="323.8" y2="398.9" stroke="#2aa6f0" stroke-width="1.3"/>
<line x1="314.3" y1="406.9" x2="323.8" y2="406.9" stroke="#f01414" stroke-width="1.3"/>
<line x1="319.1" y1="397.5" x2="319.1" y2="399.3" stroke="#111" stroke-width="0.7"/>
<line x1="319.1" y1="405.5" x2="319.1" y2="407.3" stroke="#111" stroke-width="0.7"/>
<text x="329" y="401" font-size="6.0" text-anchor="start" fill="#222" stroke="#222">FGF8 low</text>
<text x="329" y="409" font-size="6.0" text-anchor="start" fill="#222" stroke="#222">FGF8 high</text>
<line x1="429.9" y1="235.4" x2="429.9" y2="295.8" stroke="#c4c4c4" stroke-width="0.9"/>
<line x1="429.9" y1="295.8" x2="490.7" y2="295.8" stroke="#c4c4c4" stroke-width="0.9"/>
<line x1="427.7" y1="280.95" x2="429.9" y2="280.95" stroke="#c4c4c4" stroke-width="0.9"/>
<text x="427.2" y="283.45" font-size="7" text-anchor="end" fill="#141414" stroke="#141414">1</text>
<line x1="427.7" y1="266.1" x2="429.9" y2="266.1" stroke="#c4c4c4" stroke-width="0.9"/>
<text x="427.2" y="268.6" font-size="7" text-anchor="end" fill="#141414" stroke="#141414">2</text>
<line x1="427.7" y1="251.25" x2="429.9" y2="251.25" stroke="#c4c4c4" stroke-width="0.9"/>
<text x="427.2" y="253.75" font-size="7" text-anchor="end" fill="#141414" stroke="#141414">3</text>
<line x1="427.7" y1="236.4" x2="429.9" y2="236.4" stroke="#c4c4c4" stroke-width="0.9"/>
<text x="427.2" y="238.9" font-size="7" text-anchor="end" fill="#141414" stroke="#141414">4</text>
<line x1="445.5" y1="295.8" x2="445.5" y2="298" stroke="#c4c4c4" stroke-width="0.9"/>
<text x="445.5" y="305.8" font-size="7" text-anchor="middle" fill="#141414" stroke="#141414">1</text>
<line x1="460.4" y1="295.8" x2="460.4" y2="298" stroke="#c4c4c4" stroke-width="0.9"/>
<text x="460.4" y="305.8" font-size="7" text-anchor="middle" fill="#141414" stroke="#141414">2</text>
<line x1="475.3" y1="295.8" x2="475.3" y2="298" stroke="#c4c4c4" stroke-width="0.9"/>
<text x="475.3" y="305.8" font-size="7" text-anchor="middle" fill="#141414" stroke="#141414">3</text>
<line x1="490.2" y1="295.8" x2="490.2" y2="298" stroke="#c4c4c4" stroke-width="0.9"/>
<text x="490.2" y="305.8" font-size="7" text-anchor="middle" fill="#141414" stroke="#141414">4</text>
<text x="413.4" y="268.3" font-size="6.9" text-anchor="middle" fill="#141414" stroke="#141414" transform="rotate(-90 413.4 268.3)">rel. SP8 expression [-log10]</text>
<text x="411.8" y="318.6" font-size="6.95" text-anchor="start" fill="#141414" stroke="#141414">rel. FGF8 expression [-log10]</text>
<circle cx="461.4" cy="247.3" r="1.6" fill="#1c9cf0"/>
<circle cx="460.4" cy="249.3" r="1.6" fill="#1c9cf0"/>
<circle cx="461.4" cy="252.6" r="1.6" fill="#1c9cf0"/>
<circle cx="468.6" cy="251.5" r="1.6" fill="#1c9cf0"/>
<circle cx="477.6" cy="249.7" r="1.6" fill="#1c9cf0"/>
<circle cx="452.2" cy="258.3" r="1.6" fill="#1c9cf0"/>
<circle cx="443.8" cy="263.2" r="1.6" fill="#1c9cf0"/>
<circle cx="451.5" cy="263.8" r="1.6" fill="#1c9cf0"/>
<circle cx="454.2" cy="262.9" r="1.6" fill="#1c9cf0"/>
<circle cx="459.2" cy="261.2" r="1.6" fill="#1c9cf0"/>
<circle cx="461.7" cy="263.8" r="1.6" fill="#1c9cf0"/>
<circle cx="463.4" cy="263.6" r="1.6" fill="#1c9cf0"/>
<circle cx="462.4" cy="264.5" r="1.6" fill="#1c9cf0"/>
<circle cx="446.2" cy="268.1" r="1.6" fill="#1c9cf0"/>
<circle cx="450.8" cy="268.1" r="1.6" fill="#1c9cf0"/>
<circle cx="452.8" cy="267.1" r="1.6" fill="#1c9cf0"/>
<circle cx="453.8" cy="267.8" r="1.6" fill="#1c9cf0"/>
<circle cx="465.7" cy="269.8" r="1.6" fill="#1c9cf0"/>
<circle cx="441.6" cy="270.4" r="1.6" fill="#1c9cf0"/>
<circle cx="445.2" cy="272.4" r="1.6" fill="#1c9cf0"/>
<circle cx="433.2" cy="272.8" r="1.6" fill="#1c9cf0"/>
<circle cx="439.2" cy="275.5" r="1.6" fill="#1c9cf0"/>
<circle cx="452.4" cy="275.1" r="1.6" fill="#1c9cf0"/>
<circle cx="453.5" cy="276" r="1.6" fill="#1c9cf0"/>
<circle cx="458.8" cy="277.3" r="1.6" fill="#1c9cf0"/>
<circle cx="443.8" cy="277.3" r="1.6" fill="#1c9cf0"/>
<circle cx="445.4" cy="278.4" r="1.6" fill="#1c9cf0"/>
<circle cx="427.3" cy="278.4" r="1.6" fill="#1c9cf0"/>
<circle cx="431.6" cy="279.7" r="1.6" fill="#1c9cf0"/>
<circle cx="438.5" cy="280" r="1.6" fill="#1c9cf0"/>
<circle cx="431.9" cy="286.3" r="1.6" fill="#1c9cf0"/>
<circle cx="451.5" cy="285.3" r="1.6" fill="#1c9cf0"/>
<circle cx="427.7" cy="289.6" r="1.6" fill="#1c9cf0"/>
<circle cx="430.6" cy="294.9" r="1.6" fill="#1c9cf0"/>
<circle cx="432.6" cy="295.3" r="1.6" fill="#1c9cf0"/>
<circle cx="434.6" cy="295.3" r="1.6" fill="#1c9cf0"/>
<circle cx="453.8" cy="265.2" r="1.6" fill="#1c9cf0"/>
<line x1="427.3" y1="292.3" x2="477.6" y2="245.3" stroke="#f02020" stroke-width="1.1"/>
<text x="460" y="287.4" font-size="6.0" text-anchor="start" fill="#222" stroke="#222">R² = 0.72</text>
<text x="460" y="293.4" font-size="6.2" fill="#222"><tspan font-style="italic">P</tspan> &lt; 0.0001</text>
<line x1="430.9" y1="344.1" x2="430.9" y2="411" stroke="#c4c4c4" stroke-width="0.9"/>
<line x1="430.9" y1="411" x2="467.9" y2="411" stroke="#c4c4c4" stroke-width="0.9"/>
<line x1="428.7" y1="350.2" x2="430.9" y2="350.2" stroke="#c4c4c4" stroke-width="0.9"/>
<text x="428.4" y="352.7" font-size="7" text-anchor="end" fill="#141414" stroke="#141414">0.10</text>
<line x1="428.7" y1="380.6" x2="430.9" y2="380.6" stroke="#c4c4c4" stroke-width="0.9"/>
<text x="428.4" y="383.1" font-size="7" text-anchor="end" fill="#141414" stroke="#141414">0.05</text>
<line x1="428.7" y1="411" x2="430.9" y2="411" stroke="#c4c4c4" stroke-width="0.9"/>
<text x="428.4" y="413.5" font-size="7" text-anchor="end" fill="#141414" stroke="#141414">0.00</text>
<line x1="436.6" y1="411" x2="436.6" y2="413.2" stroke="#c4c4c4" stroke-width="0.9"/>
<text x="436.6" y="420.8" font-size="7" text-anchor="middle" fill="#141414" stroke="#141414">NL</text>
<line x1="449.8" y1="411" x2="449.8" y2="413.2" stroke="#c4c4c4" stroke-width="0.9"/>
<text x="449.8" y="420.8" font-size="7" text-anchor="middle" fill="#141414" stroke="#141414">T</text>
<line x1="462.8" y1="411" x2="462.8" y2="413.2" stroke="#c4c4c4" stroke-width="0.9"/>
<text x="462.8" y="420.8" font-size="7" text-anchor="middle" fill="#141414" stroke="#141414">M</text>
<text x="411.9" y="377.2" font-size="7" text-anchor="middle" fill="#141414" stroke="#141414" transform="rotate(-90 411.9 377.2)">relative SP8 expression</text>
<circle cx="436.6" cy="372.9" r="1.8" fill="#1c9cf0"/>
<rect x="448.2" y="351.8" width="3.2" height="3.2" fill="#f50a0a"/>
<path d="M462.8 378.38L464.72 381.74L460.88 381.74Z" fill="#000"/>
<line x1="496.5" y1="342.6" x2="496.5" y2="411.1" stroke="#c4c4c4" stroke-width="0.9"/>
<line x1="496.5" y1="411.1" x2="534.9" y2="411.1" stroke="#c4c4c4" stroke-width="0.9"/>
<line x1="494.3" y1="344.2" x2="496.5" y2="344.2" stroke="#c4c4c4" stroke-width="0.9"/>
<text x="494.4" y="346.7" font-size="7" text-anchor="end" fill="#141414" stroke="#141414">1.5</text>
<line x1="494.3" y1="366.5" x2="496.5" y2="366.5" stroke="#c4c4c4" stroke-width="0.9"/>
<text x="494.4" y="369" font-size="7" text-anchor="end" fill="#141414" stroke="#141414">1.0</text>
<line x1="494.3" y1="388.8" x2="496.5" y2="388.8" stroke="#c4c4c4" stroke-width="0.9"/>
<text x="494.4" y="391.3" font-size="7" text-anchor="end" fill="#141414" stroke="#141414">0.5</text>
<line x1="494.3" y1="411.1" x2="496.5" y2="411.1" stroke="#c4c4c4" stroke-width="0.9"/>
<text x="494.4" y="413.6" font-size="7" text-anchor="end" fill="#141414" stroke="#141414">0.0</text>
<line x1="503.4" y1="411.1" x2="503.4" y2="413.3" stroke="#c4c4c4" stroke-width="0.9"/>
<text x="503.4" y="420.8" font-size="7" text-anchor="middle" fill="#141414" stroke="#141414">NL</text>
<line x1="516" y1="411.1" x2="516" y2="413.3" stroke="#c4c4c4" stroke-width="0.9"/>
<text x="516" y="420.8" font-size="7" text-anchor="middle" fill="#141414" stroke="#141414">T</text>
<line x1="528.5" y1="411.1" x2="528.5" y2="413.3" stroke="#c4c4c4" stroke-width="0.9"/>
<text x="528.5" y="420.8" font-size="7" text-anchor="middle" fill="#141414" stroke="#141414">M</text>
<text x="482.3" y="377.3" font-size="6.9" text-anchor="middle" fill="#141414" stroke="#141414" transform="rotate(-90 482.3 377.3)">relative FGF8 expression</text>
<circle cx="503.4" cy="400.1" r="1.8" fill="#1c9cf0"/>
<rect x="514.4" y="362.7" width="3.2" height="3.2" fill="#f50a0a"/>
<path d="M528.5 400.28L530.42 403.64L526.58 403.64Z" fill="#000"/>
</svg>
</body></html>
